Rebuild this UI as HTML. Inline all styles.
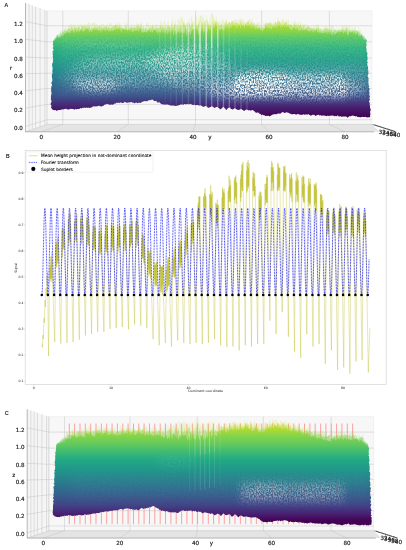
<!DOCTYPE html>
<html><head><meta charset="utf-8"><title>Figure</title>
<style>
html,body{margin:0;padding:0;background:#fff;}
body{width:406px;height:550px;overflow:hidden;}
svg text{font-family:"DejaVu Sans","Liberation Sans",sans-serif;fill:#222;}
.t{font-size:5.6px;stroke:#222;stroke-width:.18px;}
.l{font-size:4.33px;fill:#111;stroke:#111;stroke-width:.1px;}
.s{font-size:3.1px;fill:#222;}
.s2{font-size:3.3px;}
svg text.p{font-family:"Liberation Sans","DejaVu Sans",sans-serif;font-size:5.4px;fill:#111;stroke:#111;stroke-width:.15px;}
</style></head><body>
<svg width="406" height="550" viewBox="0 0 406 550" style="display:block">
<rect width="406" height="550" fill="#fff"/>
<defs><filter id="spk" filterUnits="userSpaceOnUse" x="0" y="0" width="406" height="550" color-interpolation-filters="sRGB">
<feGaussianBlur in="SourceGraphic" stdDeviation="3.5" result="d"/>
<feTurbulence type="fractalNoise" baseFrequency="0.79 0.53" numOctaves="2" seed="5" result="n"/>
<feColorMatrix in="n" type="matrix" values="0 0 0 0 1 0 0 0 0 1 0 0 0 0 1 3 0 0 0 -1" result="na"/>
<feComposite in="na" in2="d" operator="arithmetic" k1="1.7" k2="0" k3="0.15" k4="0" result="c"/>
<feComponentTransfer in="c"><feFuncR type="linear" slope="0"/><feFuncG type="linear" slope="0"/><feFuncB type="linear" slope="0"/><feFuncA type="linear" slope="1"/></feComponentTransfer>
</filter></defs>
<defs><linearGradient id="vgA" gradientUnits="userSpaceOnUse" x1="0" y1="118" x2="0" y2="22">
<stop offset="0.010" stop-color="#440154"/>
<stop offset="0.083" stop-color="#461668"/>
<stop offset="0.146" stop-color="#462e7a"/>
<stop offset="0.229" stop-color="#3b528a"/>
<stop offset="0.344" stop-color="#306c8e"/>
<stop offset="0.427" stop-color="#287d8e"/>
<stop offset="0.524" stop-color="#21918c"/>
<stop offset="0.625" stop-color="#22a186"/>
<stop offset="0.723" stop-color="#2caf7e"/>
<stop offset="0.823" stop-color="#4fc36a"/>
<stop offset="0.901" stop-color="#87d448"/>
<stop offset="0.969" stop-color="#b0dc2f"/>
<stop offset="1.000" stop-color="#bddf26"/>
</linearGradient>
<mask id="mkA" maskUnits="userSpaceOnUse" x="0" y="2" width="406" height="136"><rect x="0" y="2" width="406" height="136" fill="#fff"/>
<g filter="url(#spk)">
<rect x="72" y="64" width="160" height="24" fill="#fff" opacity=".1"/>
<rect x="232" y="66" width="136" height="32" fill="#fff" opacity=".1"/>
<rect x="60" y="36" width="306" height="58" fill="#fff" opacity=".06"/>
<ellipse cx="140" cy="58" rx="60" ry="2.5" fill="#fff" opacity="0.25"/>
<ellipse cx="195" cy="68" rx="35" ry="24" fill="#fff" opacity="0.12"/>
<ellipse cx="97" cy="86" rx="22" ry="6" fill="#fff" opacity="0.34"/>
<ellipse cx="120" cy="64" rx="45" ry="2.5" fill="#fff" opacity="0.3"/>
<ellipse cx="110" cy="45" rx="40" ry="1.5" fill="#fff" opacity="0.2"/>
<ellipse cx="175" cy="62" rx="30" ry="14" fill="#fff" opacity="0.2"/>
<rect x="234" y="74" width="112" height="24" fill="#fff" opacity=".4"/>
<ellipse cx="262" cy="83" rx="28" ry="12" fill="#fff" opacity="0.3"/>
<ellipse cx="225" cy="90" rx="18" ry="8" fill="#fff" opacity="0.3"/>
<ellipse cx="350" cy="88" rx="14" ry="7" fill="#fff" opacity="0.2"/>
<ellipse cx="120" cy="78" rx="60" ry="7" fill="#fff" opacity="0.1"/>
</g>
<path d="M159.5,23.9V52" stroke="#000" stroke-width="1.5" opacity="0.1"/>
<path d="M159.5,52V80" stroke="#000" stroke-width="1.4" opacity="0.05"/>
<path d="M165.2,24.2V52.2" stroke="#000" stroke-width="1.5" opacity="0.12"/>
<path d="M165.2,52.2V80.2" stroke="#000" stroke-width="1.4" opacity="0.08"/>
<path d="M165.2,80.2V106" stroke="#000" stroke-width="1.3" opacity="0.05"/>
<path d="M170.7,24.4V52.4" stroke="#000" stroke-width="1.5" opacity="0.18"/>
<path d="M170.7,52.4V80.4" stroke="#000" stroke-width="1.4" opacity="0.1"/>
<path d="M170.7,80.4V106.4" stroke="#000" stroke-width="1.3" opacity="0.06"/>
<path d="M176.4,24.5V52.5" stroke="#000" stroke-width="1.5" opacity="0.25"/>
<path d="M176.4,52.5V80.5" stroke="#000" stroke-width="1.4" opacity="0.2"/>
<path d="M176.4,80.5V106.4" stroke="#000" stroke-width="1.3" opacity="0.1"/>
<path d="M182.4,24.5V52.5" stroke="#000" stroke-width="1.5" opacity="0.35"/>
<path d="M182.4,52.5V80.5" stroke="#000" stroke-width="1.4" opacity="0.25"/>
<path d="M182.4,80.5V105.3" stroke="#000" stroke-width="1.3" opacity="0.12"/>
<path d="M188.4,24.5V52.5" stroke="#000" stroke-width="1.5" opacity="0.45"/>
<path d="M188.4,52.5V80.5" stroke="#000" stroke-width="1.4" opacity="0.3"/>
<path d="M188.4,80.5V104.7" stroke="#000" stroke-width="1.3" opacity="0.15"/>
<path d="M194.5,24.2V52.2" stroke="#000" stroke-width="1.5" opacity="0.7"/>
<path d="M194.5,52.2V80.2" stroke="#000" stroke-width="1.4" opacity="0.4"/>
<path d="M194.5,80.2V105.8" stroke="#000" stroke-width="1.3" opacity="0.2"/>
<path d="M200,23.2V51.2" stroke="#000" stroke-width="1.5" opacity="0.75"/>
<path d="M200,51.2V79.2" stroke="#000" stroke-width="1.4" opacity="0.45"/>
<path d="M200,79.2V106.7" stroke="#000" stroke-width="1.3" opacity="0.3"/>
<path d="M206.2,21.7V49.7" stroke="#000" stroke-width="1.5" opacity="0.75"/>
<path d="M206.2,49.7V77.7" stroke="#000" stroke-width="1.4" opacity="0.45"/>
<path d="M206.2,77.7V107.5" stroke="#000" stroke-width="1.3" opacity="0.35"/>
<path d="M211.7,19.8V47.8" stroke="#000" stroke-width="1.5" opacity="0.7"/>
<path d="M211.7,47.8V75.8" stroke="#000" stroke-width="1.4" opacity="0.4"/>
<path d="M211.7,75.8V108.2" stroke="#000" stroke-width="1.3" opacity="0.35"/>
<path d="M217.8,20.3V48.3" stroke="#000" stroke-width="1.5" opacity="0.55"/>
<path d="M217.8,48.3V76.3" stroke="#000" stroke-width="1.4" opacity="0.35"/>
<path d="M217.8,76.3V108.8" stroke="#000" stroke-width="1.3" opacity="0.35"/>
<path d="M223.5,21.2V49.2" stroke="#000" stroke-width="1.5" opacity="0.2"/>
<path d="M223.5,49.2V77.2" stroke="#000" stroke-width="1.4" opacity="0.25"/>
<path d="M223.5,77.2V109.1" stroke="#000" stroke-width="1.3" opacity="0.35"/>
<path d="M229.3,19.9V48" stroke="#000" stroke-width="1.5" opacity="0.1"/>
<path d="M229.3,48V76" stroke="#000" stroke-width="1.4" opacity="0.2"/>
<path d="M229.3,76V109.4" stroke="#000" stroke-width="1.3" opacity="0.3"/>
<path d="M235,19V47" stroke="#000" stroke-width="1.5" opacity="0.05"/>
<path d="M235,47V75" stroke="#000" stroke-width="1.4" opacity="0.15"/>
<path d="M235,75V109.8" stroke="#000" stroke-width="1.3" opacity="0.25"/>
<path d="M241,46.8V74.8" stroke="#000" stroke-width="1.4" opacity="0.1"/>
<path d="M241,74.8V110.5" stroke="#000" stroke-width="1.3" opacity="0.2"/>
<path d="M247,46.6V74.6" stroke="#000" stroke-width="1.4" opacity="0.05"/>
<path d="M247,74.6V111.2" stroke="#000" stroke-width="1.3" opacity="0.15"/>
</mask></defs>
<polygon points="25.5,3 46.9,10.8 46.9,124.4 25.5,131.8" fill="#f5f5f5"/>
<polygon points="46.9,10.8 372,10.8 372,124.4 46.9,124.4" fill="#f7f7f7" stroke="#e9e9e9" stroke-width=".5"/>
<polygon points="46.9,124.4 372,124.4 379.5,131.8 25.5,131.8" fill="#e4e4e4"/>
<path d="M25.5,126.5L46.9,119.7H372M25.5,108.1L46.9,104.4H372M25.5,90.9L46.9,88.5H372M25.5,73.7L46.9,73.2H372M25.5,57L46.9,58H372M25.5,39.3L46.9,41.8H372M25.5,21.6L46.9,25.8H372M29.1,4.3V130.5M32.3,5.5V129.4M35.6,6.7V128.3M40.1,8.3V126.8M44.8,10V125.1M62.8,10.8V124.4L41.4,131.8M128.3,10.8V124.4L117,131.8M195.5,10.8V124.4L193,131.8M261.6,10.8V124.4L269,131.8M329.4,10.8V124.4L345,131.8M46.9,10.8V124.4L25.5,131.8M46.9,124.4H372" fill="none" stroke="#c4c4c4" stroke-width=".5"/>
<path d="M25.5,3V131.8H374" fill="none" stroke="#999" stroke-width=".7"/>
<g mask="url(#mkA)">
<polygon points="53.5,39.5 54.3,39.3 54.8,37.4 55.6,37.5 56.4,35.8 56.7,34.6 57.6,34.9 58.4,34 58.7,34.1 59.9,32.4 60.5,30.6 61.4,33 61.7,30 62.5,32.1 63.4,28.9 63.8,28.9 64.8,28.6 65.3,25.4 65.9,25.8 66.6,29.5 67.2,28.8 68.1,25.9 68.6,24.6 69.7,26.5 70.5,23.9 70.7,22.6 71.3,24.1 72,24.3 73.3,26.8 73.4,25.8 74.5,24.7 75,22.3 75.6,25.9 76.3,25.7 77.3,28.3 77.6,24.1 78.8,26 79.3,24.2 79.8,26.8 80.5,24.2 81.5,23.7 82.2,25.1 82.7,26.3 83.4,25.4 84.2,23 85.1,26.2 85.6,26.3 86.5,23.9 87.1,25.5 87.7,22.4 88.4,22.8 89.2,22.3 89.8,23.3 90.6,24.3 91,27.3 91.8,22.8 92.8,23.3 93.2,22.8 94.2,22.9 95,21.6 95.4,25.5 95.9,23.1 97,24.4 97.6,25.4 98.1,26.2 99.1,27 99.6,24.9 100,25.8 100.7,26 101.5,23.5 102.5,24.4 103.3,24.4 103.6,22 104.2,26.6 105.3,24.6 105.8,26.7 106.6,25.6 107.5,22.6 108.3,27.5 109,23.3 109.6,22.8 109.8,24.4 110.6,22.2 111.6,24.6 112.5,25.2 112.6,24.4 113.6,26.3 114.2,26.3 114.9,25.5 115.6,21.3 116.3,24.8 116.9,25.3 117.6,21.2 118.5,26.6 119.2,21.6 120,22.8 120.7,24.6 121.6,25.4 121.9,26.7 122.9,27.5 123.3,27.4 124.2,25.6 125,25.6 125.4,22.8 126.2,24.6 127,22.4 127.4,23.6 128.3,27 128.8,24.5 129.5,26.9 130.5,27.1 131.4,22.4 132.1,25.4 132.4,26.1 133,27.2 133.9,24 134.6,25 135.2,28 136.2,23.3 136.8,25.7 137.4,22.2 138.2,23.6 138.8,24 139.6,24.8 140.5,23.4 141.2,21.5 141.9,23.3 142.5,27.4 142.8,25.1 143.7,26.9 144.6,27.9 145,27.3 145.9,27.2 146.2,22.3 147,23.6 147.8,23.2 148.3,23.7 149.3,26.4 149.8,25.4 150.9,25.1 151.3,25.9 152,25.5 153,22.5 153.5,28 153.9,26.8 154.7,25.6 155.7,23.9 156.1,24.8 156.8,23.7 157.8,28.1 158.4,27.1 159,25.6 159.8,25.2 160.6,21.9 160.9,20.3 161.8,22.6 162.5,28.4 163.5,26.4 163.7,21.7 164.6,20.3 165.2,23.2 166.2,25.7 167,25.5 167.2,22.9 168.4,20.5 169,25.3 169.4,26 170.5,27.8 170.9,26.5 171.9,19 172.1,21.8 173.1,17.6 173.8,28.1 174.7,24.8 175.4,19.8 175.9,21 176.3,28.6 177.3,23.7 177.9,20 179,18.5 179.5,21 180,23.7 180.7,13.7 181.7,20.5 182,17.1 183.1,19.7 183.7,25.7 184.3,23.9 185.1,25.8 185.6,24.2 186.2,24.3 187.1,21.6 187.5,23 188.3,22.9 189.2,16.7 190.1,27.4 190.4,26.2 191.3,15.3 192.3,19.3 192.9,21 193.6,24 194.2,19.5 194.9,24.4 195.5,14.8 196.3,14.6 196.9,21.5 197.5,26.2 198.1,14 198.7,22.6 199.6,18.2 200.6,15 201.1,15.7 201.6,15.3 202.7,19.7 202.9,14.8 204.2,20.2 204.7,22.5 205.3,19 205.9,21.1 206.9,15.9 207.1,15.3 207.8,23.6 208.8,23.4 209.4,20.8 210.1,19.9 210.9,14.4 211.3,13.9 212.6,13.3 213.1,15.6 213.5,15.4 214.5,19.1 215.1,19.1 215.9,23.5 216.6,15.7 217.5,21.7 217.7,24 218.9,21.6 219.3,22 219.8,18.9 220.6,25.7 221.3,24 222.3,18.7 222.8,18.9 223.2,21 224.3,21.1 224.9,23 225.8,17.9 226,18.8 227.2,20.2 227.9,23.2 228.1,23 229.1,21.7 229.6,21.7 230.5,24.1 231,21.1 232.1,20.3 232.4,21.2 233.4,20.4 234.1,20.8 234.6,20.6 235.2,19.1 236.3,20.5 236.5,22.9 237.4,18.5 238.1,20.4 239,21.3 239.5,19.3 240.1,19.1 241,18.4 241.8,18.9 242.5,19.7 243.1,19.8 243.7,23.2 244.2,20.1 245.2,22.3 246,22 246.6,22.8 247.6,20.6 247.8,22.8 248.9,19.3 249.5,19 250.3,18.9 251.1,22.9 251.3,19.9 252.5,19.1 252.8,24 253.7,23 254.6,23.4 255.1,23.1 255.7,25 256.1,23 257.2,24 257.6,22 258.4,22.7 259.1,22.4 260.2,25.9 260.7,24.2 261.4,24.6 261.8,25.7 262.6,28.5 263.6,21.8 263.9,23.3 265.1,24.5 265.5,22.7 266.1,21.7 266.9,22.3 267.6,23.4 268.3,23.5 269,23.3 269.8,20.6 270.3,22 270.9,24.7 271.8,22.3 272.3,23 273.2,24.4 273.9,19.1 274.8,23.3 275.1,21 275.9,21.9 276.9,23.9 277.3,18.1 278.3,17.2 278.9,22 279.2,20.9 280.1,20.9 281.1,22.3 281.6,20.1 282.4,19.2 283.3,19.7 283.8,19.7 284.4,24 285.3,22.1 285.8,20.5 286.2,19.1 287.1,21.7 288,21.4 288.9,19.2 289.4,24.8 289.9,23.9 291,24.1 291.3,19.9 291.9,24.9 292.8,25.4 293.4,22.7 294,20.6 295,24 295.7,19.8 296.6,23.7 296.8,21.5 297.9,25.3 298.6,20.8 299,25.5 299.8,22.5 300.6,21.7 301.1,25.1 301.7,26.5 302.8,23.6 303.1,24.4 304,24.5 304.7,23.3 305.6,25.6 306.1,25.1 306.8,24.9 307.8,24.9 308.1,25.5 309,27.1 309.4,26.4 310.5,27.4 311.2,27.7 311.9,24.2 312.4,27.9 312.9,28 313.9,25.4 314.7,26.9 315.1,27.5 315.6,26.4 316.4,25.1 317.6,24.5 317.7,23.2 318.4,24.2 319.2,27.5 320.3,27.9 320.7,28.4 321.6,29.5 322.3,25.2 322.9,30.5 323.7,29.3 324.3,26.2 325,26.6 325.6,28.1 326.1,24.4 327.2,27.8 327.7,26.9 328.4,30.2 329.4,25.5 329.8,29.9 330.4,27.7 331.4,25.3 332,24.6 332.4,25.4 333.3,25.6 334.2,29.8 334.7,30.7 335.8,28.3 336.4,30.7 336.9,25.4 337.8,30.8 338,28.8 338.8,29.7 339.9,30.3 340.4,27.6 340.9,29.9 341.8,24.8 342.6,26 343.3,27.6 343.6,24.8 344.3,24.9 345.2,28.1 345.7,24.8 346.5,24.7 347.5,26.7 348.1,28.9 348.6,25.5 349.7,25 350.1,28.8 351.1,30.3 351.7,26.1 352.4,26.8 353,29.8 353.8,28 354.2,29.7 355,25.4 356,29.5 356.3,30.4 357.1,31.1 358,29.8 358.5,26.2 359.2,30.9 360.2,30.4 360.5,29.1 361.2,33.9 362.3,33.8 362.7,33.3 363.4,36 364.4,35.7 364.8,37 365.9,38 365.6,45.8 53.4,47.8" fill="url(#vgA)" opacity=".22"/>
<polygon points="53.4,40.7 54.1,39.6 54.8,38.8 55.5,38.3 56.2,36.4 56.9,35.3 57.6,34.8 58.3,35 59,35.7 59.7,36.1 60.4,33.5 61.1,33 61.8,34.5 62.5,31.1 63.2,32.2 63.9,31.7 64.6,29.8 65.3,31.8 66,30 66.7,31 67.4,29.2 68.1,30.3 68.8,28.6 69.5,28 70.2,29.3 70.9,28.9 71.6,26.3 72.3,27.6 73,29.3 73.7,29.3 74.4,26 75.1,27 75.8,29 76.5,27.5 77.2,27.9 77.9,28.1 78.6,26.3 79.3,26.7 80,29.2 80.7,29 81.4,27.6 82.1,26 82.8,26.4 83.5,26.4 84.2,26.6 84.9,28 85.6,25.1 86.3,28.1 87,25.6 87.7,27.9 88.4,27.3 89.1,25.5 89.8,27.7 90.5,29.5 91.2,28.3 91.9,26.6 92.6,28.9 93.3,27.8 94,28.5 94.7,25.9 95.4,27.3 96.1,26.6 96.8,27.9 97.5,26.3 98.2,29 98.9,25.8 99.6,25.5 100.3,27.5 101,28.2 101.7,26.6 102.4,28.8 103.1,26.8 103.8,28.3 104.5,26.5 105.2,27.8 105.9,26.3 106.6,25.7 107.3,29.6 108,26.3 108.7,27.2 109.4,28 110.1,27.6 110.8,28.2 111.5,27.7 112.2,26.3 112.9,28.5 113.6,26.3 114.3,25.8 115,24.9 115.7,25.2 116.4,25.1 117.1,27.4 117.8,24.5 118.5,28.1 119.2,25.5 119.9,25.9 120.6,27.5 121.3,27.4 122,28.6 122.7,27.6 123.4,28.3 124.1,28.7 124.8,29 125.5,26.6 126.2,25.7 126.9,29.3 127.6,29.4 128.3,28.4 129,28.8 129.7,28.6 130.4,26.5 131.1,27.9 131.8,27.2 132.5,27.9 133.2,26.7 133.9,28.3 134.6,27.7 135.3,27.7 136,25.5 136.7,27.8 137.4,25.6 138.1,26.9 138.8,25.1 139.5,27.5 140.2,27 140.9,25.6 141.6,27 142.3,28.9 143,29.1 143.7,25.7 144.4,30 145.1,28.8 145.8,26.3 146.5,30 147.2,29.3 147.9,29.4 148.6,29.5 149.3,28 150,27 150.7,28.3 151.4,29 152.1,26.3 152.8,25.8 153.5,27.6 154.2,29.8 154.9,28.1 155.6,27.5 156.3,29.1 157,26.6 157.7,28.7 158.4,27.7 159.1,29.2 159.8,26.2 160.5,25.7 161.2,26.2 161.9,28.7 162.6,25 163.3,26.7 164,28.1 164.7,27.9 165.4,25.9 166.1,29.8 166.8,26.9 167.5,26.4 168.2,27.6 168.9,25.1 169.6,26.9 170.3,26.8 171,28.1 171.7,23.8 172.4,28.5 173.1,25.7 173.8,28.2 174.5,24.2 175.2,24.1 175.9,30.9 176.6,24 177.3,26.2 178,29.8 178.7,25.5 179.4,28.9 180.1,24.1 180.8,27.3 181.5,26.1 182.2,26.6 182.9,24.2 183.6,22.1 184.3,21.4 185,26.4 185.7,24.4 186.4,29.9 187.1,26.8 187.8,21.3 188.5,29.8 189.2,22.9 189.9,24.3 190.6,27.7 191.3,22.4 192,27.1 192.7,21.6 193.4,29.9 194.1,29.1 194.8,23.3 195.5,25.7 196.2,27.8 196.9,24.1 197.6,26.6 198.3,24.1 199,22.7 199.7,22.2 200.4,28.8 201.1,23.9 201.8,20.8 202.5,24.7 203.2,21.8 203.9,27.9 204.6,21 205.3,22.7 206,20.5 206.7,21.3 207.4,20.8 208.1,27.3 208.8,22.2 209.5,26.1 210.2,25.5 210.9,24.8 211.6,22.1 212.3,21.3 213,19 213.7,24.4 214.4,22.6 215.1,22.5 215.8,20.4 216.5,22.2 217.2,23.1 217.9,22.1 218.6,22.5 219.3,25.1 220,26.6 220.7,25 221.4,22.9 222.1,24.6 222.8,27.4 223.5,25.5 224.2,25.2 224.9,23.5 225.6,23.3 226.3,21.5 227,24 227.7,24.1 228.4,23.3 229.1,21.9 229.8,22.4 230.5,24 231.2,21.8 231.9,22.8 232.6,20.4 233.3,23.4 234,24.1 234.7,21 235.4,23.4 236.1,21.7 236.8,23.2 237.5,23 238.2,24.9 238.9,22.4 239.6,25 240.3,21.4 241,21.6 241.7,24.3 242.4,24.9 243.1,22.1 243.8,23.8 244.5,25.4 245.2,23.3 245.9,24.1 246.6,23.3 247.3,22 248,20.7 248.7,21.6 249.4,24.4 250.1,23.2 250.8,23.2 251.5,21.3 252.2,25.3 252.9,23.6 253.6,22 254.3,24.9 255,26.3 255.7,25.3 256.4,26.5 257.1,23.9 257.8,27.1 258.5,26.5 259.2,27.7 259.9,26 260.6,28.7 261.3,26.9 262,27.9 262.7,26.7 263.4,28 264.1,28.3 264.8,26.1 265.5,23 266.2,23.3 266.9,26.6 267.6,23.6 268.3,22.9 269,23.1 269.7,23.9 270.4,22.7 271.1,23.1 271.8,25.1 272.5,25.3 273.2,23 273.9,25.9 274.6,25 275.3,21.7 276,23.3 276.7,23.7 277.4,21.3 278.1,23.2 278.8,20.6 279.5,21.2 280.2,23.2 280.9,23.5 281.6,25.1 282.3,21.7 283,25 283.7,25.2 284.4,22 285.1,22.5 285.8,22.4 286.5,21.9 287.2,25.3 287.9,25.2 288.6,23.7 289.3,26.2 290,25 290.7,24.4 291.4,24.7 292.1,25.3 292.8,27 293.5,25.7 294.2,22.5 294.9,25.9 295.6,24.2 296.3,26.2 297,23.4 297.7,27 298.4,25.9 299.1,26 299.8,25.6 300.5,24.5 301.2,25.2 301.9,27.2 302.6,28.3 303.3,26.1 304,25 304.7,29.4 305.4,26.8 306.1,28.9 306.8,27.5 307.5,27.1 308.2,26.9 308.9,25.6 309.6,26.9 310.3,29 311,27.8 311.7,28.5 312.4,28.4 313.1,29.3 313.8,28.1 314.5,29.1 315.2,29.4 315.9,29.5 316.6,27.8 317.3,28.8 318,27.2 318.7,27.4 319.4,30.2 320.1,29.6 320.8,28.7 321.5,31 322.2,30.2 322.9,30.6 323.6,29.4 324.3,27.8 325,31.1 325.7,27.4 326.4,28.8 327.1,28.6 327.8,29.5 328.5,28.8 329.2,31 329.9,29.2 330.6,30.5 331.3,30.1 332,29 332.7,31.5 333.4,31.8 334.1,29.5 334.8,29.2 335.5,29.8 336.2,31.3 336.9,30 337.6,32 338.3,29.6 339,30.1 339.7,29.4 340.4,30.3 341.1,30.9 341.8,28.8 342.5,29.8 343.2,28.4 343.9,29.9 344.6,30.8 345.3,29.4 346,28.9 346.7,28.1 347.4,28.4 348.1,32.2 348.8,29.3 349.5,31.1 350.2,29.6 350.9,30.8 351.6,31.5 352.3,30.4 353,30.6 353.7,30.1 354.4,30.5 355.1,29.7 355.8,31.5 356.5,30.3 357.2,31.5 357.9,30.9 358.6,31.8 359.3,31.5 360,34.4 360.7,33.5 361.4,34.5 362.1,35.1 362.8,36.4 363.5,36.1 364.2,36.9 364.9,38.2 365.6,38.7 365.6,45.8 53.4,47.8" fill="url(#vgA)" opacity=".5"/>
<polygon points="53.4,40.9 54.1,40.6 54.8,40.6 55.5,39.1 56.2,37.3 56.9,38.6 57.6,36.4 58.3,38.1 59,38.1 59.7,36.9 60.4,37.7 61.1,35.1 61.8,35.9 62.5,36.8 63.2,35.2 63.9,34.3 64.6,33.6 65.3,33.6 66,33.2 66.7,32.6 67.4,31.9 68.1,32.6 68.8,32.3 69.5,32.4 70.2,33.7 70.9,30.5 71.6,30.9 72.3,30.3 73,31.1 73.7,32.4 74.4,32.6 75.1,29.9 75.8,29.4 76.5,32.2 77.2,31 77.9,31.7 78.6,29.5 79.3,33 80,30 80.7,30.7 81.4,29.1 82.1,30.1 82.8,31.3 83.5,31.8 84.2,29.9 84.9,31 85.6,29.3 86.3,28.8 87,29.7 87.7,28.6 88.4,29.6 89.1,31.4 89.8,32 90.5,29 91.2,32 91.9,31.6 92.6,30 93.3,28.2 94,30.4 94.7,28.2 95.4,30.5 96.1,29.3 96.8,30.7 97.5,29.1 98.2,30.7 98.9,30.6 99.6,30.9 100.3,29.4 101,33 101.7,30.3 102.4,30.3 103.1,30.1 103.8,28.8 104.5,30.2 105.2,31.3 105.9,30.7 106.6,29.3 107.3,29.5 108,29.9 108.7,31.5 109.4,30.6 110.1,31.8 110.8,30.2 111.5,30.3 112.2,31 112.9,31 113.6,29.5 114.3,29.7 115,29.7 115.7,29.8 116.4,28 117.1,29 117.8,30 118.5,28.5 119.2,28.6 119.9,29.2 120.6,30.3 121.3,32.4 122,28.6 122.7,29.5 123.4,29.3 124.1,30.2 124.8,28.7 125.5,30.8 126.2,29.1 126.9,30.1 127.6,31.7 128.3,29.3 129,30.9 129.7,30 130.4,29.6 131.1,32 131.8,28.7 132.5,31.6 133.2,32 133.9,31.2 134.6,28.6 135.3,31.3 136,30.7 136.7,31 137.4,28.4 138.1,31.1 138.8,31.5 139.5,28.6 140.2,29.4 140.9,28.4 141.6,32.2 142.3,32.2 143,32.9 143.7,31.5 144.4,31.9 145.1,32 145.8,31.8 146.5,33.1 147.2,31.6 147.9,30.7 148.6,31.1 149.3,29.1 150,31.8 150.7,31.7 151.4,30.3 152.1,32.7 152.8,31.8 153.5,30.6 154.2,29.7 154.9,30.1 155.6,30.2 156.3,31.4 157,31.8 157.7,34 158.4,30.4 159.1,33.1 159.8,31.4 160.5,32.9 161.2,30.9 161.9,28.6 162.6,33.4 163.3,30.7 164,29.8 164.7,33.5 165.4,33 166.1,30.5 166.8,30.8 167.5,35.1 168.2,30.8 168.9,33.6 169.6,29 170.3,33.6 171,28.9 171.7,31.9 172.4,28.9 173.1,32.7 173.8,35.4 174.5,29.7 175.2,31.2 175.9,34.8 176.6,34.3 177.3,31.2 178,33.1 178.7,30.9 179.4,34.1 180.1,28.7 180.8,32.8 181.5,32.2 182.2,33.2 182.9,30.2 183.6,33.3 184.3,33.5 185,30.2 185.7,27.1 186.4,36.1 187.1,34.1 187.8,29.4 188.5,35 189.2,30.9 189.9,32.1 190.6,35.8 191.3,31.1 192,29.7 192.7,30.1 193.4,28.4 194.1,29.3 194.8,30 195.5,28.6 196.2,26.8 196.9,30.4 197.6,28.5 198.3,33.2 199,35.2 199.7,29.6 200.4,31.8 201.1,31 201.8,27.5 202.5,27.2 203.2,33.4 203.9,30.1 204.6,32.6 205.3,25.6 206,30.2 206.7,32.2 207.4,32.2 208.1,25.4 208.8,29.5 209.5,28.1 210.2,30.9 210.9,25.6 211.6,26.1 212.3,29.5 213,26.7 213.7,25.7 214.4,28.5 215.1,25.2 215.8,24.1 216.5,26.4 217.2,25.5 217.9,25.6 218.6,28.1 219.3,30.8 220,28.8 220.7,29.8 221.4,28.2 222.1,29.6 222.8,30.3 223.5,29.6 224.2,30.1 224.9,28 225.6,26 226.3,27.8 227,26.9 227.7,25.6 228.4,28 229.1,28.8 229.8,25.1 230.5,27.5 231.2,27.7 231.9,25.7 232.6,24.9 233.3,25.2 234,26 234.7,26.6 235.4,26.1 236.1,24.8 236.8,28.3 237.5,28.1 238.2,24.7 238.9,25.8 239.6,25.1 240.3,28 241,28.1 241.7,24.7 242.4,25.8 243.1,25.6 243.8,26.7 244.5,28.8 245.2,24.7 245.9,24.9 246.6,26.1 247.3,25.8 248,26.5 248.7,25.7 249.4,24.7 250.1,25.6 250.8,28.3 251.5,27.4 252.2,25.2 252.9,28 253.6,26 254.3,28.8 255,26.5 255.7,30.1 256.4,27.5 257.1,28.5 257.8,29.2 258.5,28.5 259.2,27.8 259.9,28.5 260.6,30.2 261.3,29.8 262,31.5 262.7,30 263.4,29.9 264.1,28.8 264.8,29 265.5,27 266.2,25.6 266.9,27.3 267.6,28.5 268.3,26.7 269,27.7 269.7,28.9 270.4,26.9 271.1,29.1 271.8,29.3 272.5,26.1 273.2,28 273.9,26.6 274.6,26.2 275.3,26.6 276,27.1 276.7,28.6 277.4,24.7 278.1,26.3 278.8,25.6 279.5,24.5 280.2,27.6 280.9,26.7 281.6,25.2 282.3,28.1 283,25.3 283.7,24.7 284.4,26 285.1,27.8 285.8,24.4 286.5,27.6 287.2,27.1 287.9,25 288.6,27.1 289.3,27.4 290,28.4 290.7,29.4 291.4,29.1 292.1,30.8 292.8,26.9 293.5,29 294.2,26.8 294.9,28.6 295.6,29 296.3,29.5 297,27.4 297.7,28.6 298.4,30.5 299.1,31.1 299.8,29 300.5,31.1 301.2,28.9 301.9,29.1 302.6,30.7 303.3,29.9 304,29.8 304.7,30.1 305.4,30.7 306.1,29.2 306.8,28.6 307.5,31.3 308.2,30.8 308.9,31.3 309.6,32 310.3,30.5 311,30.7 311.7,30.6 312.4,30.4 313.1,32.9 313.8,30.6 314.5,30.6 315.2,32 315.9,29.9 316.6,29.1 317.3,31.9 318,32.7 318.7,31.1 319.4,33.2 320.1,31.3 320.8,33.1 321.5,33.8 322.2,32.5 322.9,32.9 323.6,33.6 324.3,33.1 325,31.3 325.7,33.2 326.4,30.9 327.1,34.8 327.8,31.9 328.5,32.4 329.2,32.2 329.9,35.1 330.6,31.8 331.3,33.6 332,34.8 332.7,35.2 333.4,31.3 334.1,33.9 334.8,33.9 335.5,34.4 336.2,33 336.9,33.1 337.6,31.4 338.3,31.5 339,33.7 339.7,31.3 340.4,32 341.1,32.3 341.8,31.1 342.5,30.8 343.2,34.2 343.9,32.2 344.6,31.1 345.3,33.5 346,30.6 346.7,31.9 347.4,34.9 348.1,35.2 348.8,34 349.5,31.6 350.2,32.8 350.9,31.6 351.6,32.8 352.3,31.5 353,32.3 353.7,34.5 354.4,32.5 355.1,32.1 355.8,35.8 356.5,33.5 357.2,33.3 357.9,32.8 358.6,35.9 359.3,35.5 360,35.7 360.7,36.6 361.4,34.5 362.1,35.9 362.8,37.7 363.5,39.6 364.2,39.7 364.9,39.6 365.6,39.5 366.4,39.5 366.7,40.7 366.6,41.9 366.1,43.1 366.6,44.3 366.6,45.5 366,46.7 366.2,47.9 366.6,49.1 366.4,50.3 366.6,51.5 367.2,52.7 367.6,53.9 367,55.1 367.3,56.3 367.5,57.5 367.5,58.7 367.6,59.9 366.8,61.1 367.9,62.3 367.2,63.5 367.3,64.7 367.7,65.9 367.9,67.1 368.2,68.3 367.7,69.5 368.5,70.7 368.2,71.9 368.5,73.1 368.2,74.3 367.7,75.5 367.7,76.7 368.6,77.9 368.4,79.1 368.5,80.3 368.4,81.5 368.3,82.7 368.7,83.9 368.5,85.1 369.3,86.3 368.5,87.5 369.6,88.7 369.5,89.9 369,91.1 369.5,92.3 369.4,93.5 369.3,94.7 369.8,95.9 369.9,97.1 369.2,98.3 370.1,99.5 369.1,100.7 369.2,101.9 369.8,103.1 369.6,104.3 369.9,105.5 370,106.7 370,107.9 370.6,109.1 370.7,110.3 370.1,111.5 370.1,112.7 370.6,113.9 370.1,115.1 370.2,116.8 369.5,117.5 368.8,116.9 368.1,117.4 367.4,117.3 366.7,117.5 366,116.9 365.3,116.8 364.6,116.9 363.9,117.1 363.2,116.9 362.5,116.8 361.8,116.9 361.1,117.1 360.4,117.4 359.7,117 359,117.3 358.3,117.1 357.6,117.1 356.9,116.6 356.2,116.1 355.5,116.6 354.8,116.1 354.1,116 353.4,115.8 352.7,115.6 352,115.8 351.3,115.9 350.6,116.3 349.9,116.3 349.2,116.2 348.5,116.9 347.8,117.4 347.1,117.5 346.4,116.6 345.7,116.4 345,116.4 344.3,116.6 343.6,116.5 342.9,116.6 342.2,116.7 341.5,116.8 340.8,116.3 340.1,116.3 339.4,116.5 338.7,116.4 338,115.4 337.3,115.5 336.6,116.2 335.9,116.2 335.2,115.8 334.5,116.3 333.8,115.9 333.1,115.4 332.4,115.5 331.7,115.5 331,115.7 330.3,115.7 329.6,115.8 328.9,115.8 328.2,116.1 327.5,115.5 326.8,116.3 326.1,116.1 325.4,115.8 324.7,115.7 324,115.3 323.3,115.8 322.6,115.4 321.9,115.5 321.2,115.8 320.5,115.1 319.8,115.5 319.1,115.2 318.4,114.6 317.7,115.1 317,115.1 316.3,115.6 315.6,115.9 314.9,115.6 314.2,114.7 313.5,114.8 312.8,114.8 312.1,115 311.4,115.6 310.7,115.7 310,114.9 309.3,115.1 308.6,114 307.9,114.6 307.2,114.6 306.5,114.5 305.8,114.5 305.1,114.6 304.4,114.7 303.7,114.2 303,114.6 302.3,114.8 301.6,115.1 300.9,114.6 300.2,115.1 299.5,114.6 298.8,113.9 298.1,114.5 297.4,113.8 296.7,114.6 296,114.7 295.3,114.3 294.6,114.1 293.9,113.9 293.2,114.3 292.5,114.2 291.8,114.3 291.1,113.9 290.4,113.8 289.7,113.4 289,112.9 288.3,112.7 287.6,112.7 286.9,112.1 286.2,112.4 285.5,112.7 284.8,112.8 284.1,112.9 283.4,112.3 282.7,112 282,112.3 281.3,112.9 280.6,113.4 279.9,113.8 279.2,113.4 278.5,113.4 277.8,113.5 277.1,113.9 276.4,114.2 275.7,114.2 275,114.2 274.3,114 273.6,114.5 272.9,114.4 272.2,114.7 271.5,115.2 270.8,115.7 270.1,116.1 269.4,116.6 268.7,115.8 268,115.7 267.3,115.9 266.6,115.8 265.9,116.3 265.2,115.7 264.5,115.3 263.8,115.2 263.1,115 262.4,114.6 261.7,115 261,114.7 260.3,113.7 259.6,113.8 258.9,113.3 258.2,112.5 257.5,112.6 256.8,112.4 256.1,113 255.4,112.2 254.7,111.4 254,111.1 253.3,110.6 252.6,110.1 251.9,110 251.2,110.6 250.5,110.7 249.8,110.1 249.1,110.5 248.4,110.2 247.7,110.1 247,109.6 246.3,109.8 245.6,109.8 244.9,110.4 244.2,110.9 243.5,110.5 242.8,109.9 242.1,109.8 241.4,109.1 240.7,108.8 240,109.9 239.3,109.5 238.6,109.9 237.9,110 237.2,109.5 236.5,109.2 235.8,108.9 235.1,108.2 234.4,108.3 233.7,108.9 233,109.2 232.3,109.4 231.6,109 230.9,109 230.2,107.5 229.5,107.7 228.8,107.8 228.1,108 227.4,108.8 226.7,109.8 226,110.1 225.3,108.5 224.6,108.2 223.9,107.2 223.2,106.9 222.5,107.5 221.8,108.3 221.1,108.9 220.4,109.2 219.7,108.9 219,107.9 218.3,107.9 217.6,107.1 216.9,106.9 216.2,106.9 215.5,107.6 214.8,107.7 214.1,107.9 213.4,106.9 212.7,106.4 212,106.6 211.3,106.4 210.6,106.9 209.9,107.2 209.2,107.5 208.5,107.8 207.8,107.8 207.1,106.5 206.4,106.4 205.7,106.1 205,106.2 204.3,106.6 203.6,106.8 202.9,107 202.2,106.1 201.5,106.1 200.8,105.1 200.1,105.7 199.4,105.4 198.7,105.4 198,105 197.3,104.9 196.6,104.9 195.9,105.2 195.2,105.2 194.5,104.5 193.8,104.9 193.1,105 192.4,104.8 191.7,104.5 191,103.9 190.3,103.7 189.6,104 188.9,104.6 188.2,104 187.5,104.1 186.8,104.2 186.1,104.1 185.4,104.4 184.7,103.9 184,103.9 183.3,104.9 182.6,104.4 181.9,104.6 181.2,104.4 180.5,104.3 179.8,105 179.1,104.9 178.4,105.4 177.7,105.4 177,105.8 176.3,106 175.6,106 174.9,105.7 174.2,105.7 173.5,105.4 172.8,105.7 172.1,105.3 171.4,105.8 170.7,105.5 170,105.2 169.3,105.3 168.6,104.8 167.9,104.5 167.2,104.5 166.5,104.5 165.8,104.6 165.1,104.8 164.4,104.6 163.7,104.4 163,104.3 162.3,104.4 161.6,104.1 160.9,103.7 160.2,103.1 159.5,102.3 158.8,102.2 158.1,102.7 157.4,102.4 156.7,101.3 156,101.3 155.3,101.1 154.6,100.9 153.9,101.1 153.2,99.9 152.5,99.4 151.8,99.8 151.1,99.7 150.4,100.3 149.7,100.3 149,100.1 148.3,100.6 147.6,101.2 146.9,101 146.2,101.3 145.5,101.3 144.8,101.1 144.1,101.3 143.4,101.4 142.7,101.4 142,102.3 141.3,102.3 140.6,102.9 139.9,102.8 139.2,102.8 138.5,102.7 137.8,103.2 137.1,102.9 136.4,102.6 135.7,102.8 135,102.9 134.3,103.5 133.6,102.6 132.9,102.9 132.2,102.3 131.5,102 130.8,102.3 130.1,102.2 129.4,102.5 128.7,102.2 128,102.4 127.3,102.7 126.6,102.7 125.9,102.5 125.2,102.1 124.5,101.7 123.8,102.9 123.1,102.8 122.4,102.9 121.7,103 121,102.2 120.3,102.4 119.6,103.2 118.9,102.3 118.2,102.9 117.5,103.1 116.8,102.6 116.1,103.2 115.4,103.4 114.7,103.6 114,104.1 113.3,104.5 112.6,104.7 111.9,104.4 111.2,104.5 110.5,104.8 109.8,104.6 109.1,104.9 108.4,104.1 107.7,104 107,104.2 106.3,103.8 105.6,104.5 104.9,104.8 104.2,104.8 103.5,105.7 102.8,105.9 102.1,105.9 101.4,106.8 100.7,106.3 100,106.3 99.3,105.7 98.6,105.8 97.9,106.3 97.2,106.3 96.5,106.3 95.8,106.7 95.1,106.1 94.4,106.5 93.7,106.5 93,106 92.3,107.3 91.6,107.5 90.9,107.3 90.2,107.9 89.5,108.1 88.8,107.8 88.1,107.6 87.4,107.9 86.7,107.6 86,107.7 85.3,108 84.6,107.6 83.9,107.8 83.2,107.9 82.5,107.8 81.8,108.3 81.1,108.4 80.4,108.1 79.7,108.8 79,109 78.3,109.1 77.6,108.9 76.9,108.9 76.2,109.5 75.5,108.7 74.8,109.7 74.1,109.3 73.4,109.2 72.7,109 72,108.7 71.3,109.1 70.6,108.7 69.9,109.3 69.2,109.2 68.5,109.6 67.8,109.5 67.1,109.3 66.4,109.1 65.7,108.4 65,109.2 64.3,109 63.6,109.6 62.9,109.3 62.2,109.2 61.5,109.8 60.8,109.7 60.1,110 59.4,109.9 58.7,110.2 58,110 57.3,110.5 56.6,111.1 55.9,110.2 55.2,110 54.5,110.2 53.8,110 53.1,110.1 52.4,109.6 51.7,108.6 51,107.7 51.3,106.8 51.4,105.6 50.7,104.4 50.7,103.2 51.4,102 51.5,100.8 50.9,99.6 50.9,98.4 51,97.2 50.9,96 51.3,94.8 51.4,93.6 51.6,92.4 51,91.2 51.2,90 51.1,88.8 51.3,87.6 51.3,86.4 52.2,85.2 51.6,84 51.3,82.8 52,81.6 52.4,80.4 52.3,79.2 52.1,78 51.8,76.8 51.9,75.6 51.8,74.4 52.5,73.2 52.5,72 52.2,70.8 52.7,69.6 52.5,68.4 52.6,67.2 52.1,66 52.1,64.8 52.1,63.6 53,62.4 52.9,61.2 53.1,60 53,58.8 53,57.6 52.6,56.4 53.1,55.2 52.4,54 53,52.8 52.3,51.6 53.5,50.4 53.4,49.2 52.6,48 53.4,46.8 53.5,45.6 52.6,44.4 53.2,43.2 53.1,42" fill="url(#vgA)"/>
</g>
<text x="22.9" y="129.6" text-anchor="end" class="t">0.0</text>
<text x="22.9" y="111.8" text-anchor="end" class="t">0.2</text>
<text x="22.9" y="94.6" text-anchor="end" class="t">0.4</text>
<text x="22.9" y="77.5" text-anchor="end" class="t">0.6</text>
<text x="22.9" y="60.5" text-anchor="end" class="t">0.8</text>
<text x="22.9" y="42.5" text-anchor="end" class="t">1.0</text>
<text x="22.9" y="25.9" text-anchor="end" class="t">1.2</text>
<text x="41.4" y="138.9" text-anchor="middle" class="t">0</text>
<text x="117" y="138.9" text-anchor="middle" class="t">20</text>
<text x="193" y="138.9" text-anchor="middle" class="t">40</text>
<text x="269" y="138.9" text-anchor="middle" class="t">60</text>
<text x="345" y="138.9" text-anchor="middle" class="t">80</text>
<text x="210" y="138.9" text-anchor="middle" class="t">y</text>
<text x="11" y="69.6" text-anchor="middle" class="t">r</text>
<path d="M372.3,124.4L396.3,132.0" stroke="#444" stroke-width=".6"/>
<path d="M378.3,126.3l-4,-1.6M382.5,127.6l-4,-1.6M386.7,129l-4,-1.6M390.9,130.3l-4,-1.6M395.1,131.6l-4,-1.6" stroke="#222" stroke-width=".6" fill="none"/>
<text x="382.3" y="133.7" text-anchor="middle" class="t">32</text>
<text x="385.9" y="134.6" text-anchor="middle" class="t">34</text>
<text x="389.5" y="135.5" text-anchor="middle" class="t">36</text>
<text x="393.1" y="136.4" text-anchor="middle" class="t">38</text>
<text x="396.7" y="137.3" text-anchor="middle" class="t">40</text>
<defs><linearGradient id="vgC" gradientUnits="userSpaceOnUse" x1="0" y1="524.4" x2="0" y2="424.4">
<stop offset="0.014" stop-color="#440154"/>
<stop offset="0.034" stop-color="#440154"/>
<stop offset="0.114" stop-color="#482475"/>
<stop offset="0.194" stop-color="#414487"/>
<stop offset="0.324" stop-color="#32668d"/>
<stop offset="0.444" stop-color="#27808d"/>
<stop offset="0.544" stop-color="#21968a"/>
<stop offset="0.644" stop-color="#22a884"/>
<stop offset="0.724" stop-color="#3dba74"/>
<stop offset="0.794" stop-color="#5fc860"/>
<stop offset="0.874" stop-color="#81d24d"/>
<stop offset="0.924" stop-color="#9bd83c"/>
<stop offset="0.974" stop-color="#bddf26"/>
<stop offset="1.000" stop-color="#cae126"/>
</linearGradient>
<mask id="mkC" maskUnits="userSpaceOnUse" x="0" y="404.4" width="406" height="140.0"><rect x="0" y="404.4" width="406" height="140.0" fill="#fff"/>
<g filter="url(#spk)">
<rect x="72" y="474" width="296" height="28" fill="#fff" opacity=".02"/>
<rect x="240" y="482" width="104" height="20" fill="#fff" opacity=".17"/>
<ellipse cx="265" cy="491" rx="22" ry="9" fill="#fff" opacity="0.1"/>
<ellipse cx="315" cy="493" rx="22" ry="8" fill="#fff" opacity="0.06"/>
<ellipse cx="175" cy="462" rx="20" ry="6" fill="#fff" opacity="0.05"/>
</g>
<path d="M189.5,429.8V455.8" stroke="#000" stroke-width="1.0" opacity="0.12"/>
<path d="M189.5,455.8V490.8" stroke="#000" stroke-width="0.9" opacity="0.06"/>
<path d="M195,429.6V455.6" stroke="#000" stroke-width="1.0" opacity="0.2"/>
<path d="M195,455.6V490.6" stroke="#000" stroke-width="0.9" opacity="0.1"/>
<path d="M200.3,429.2V455.2" stroke="#000" stroke-width="1.0" opacity="0.3"/>
<path d="M200.3,455.2V490.2" stroke="#000" stroke-width="0.9" opacity="0.15"/>
<path d="M204.8,428.3V454.3" stroke="#000" stroke-width="1.0" opacity="0.3"/>
<path d="M204.8,454.3V489.3" stroke="#000" stroke-width="0.9" opacity="0.15"/>
<path d="M209.5,427.4V453.4" stroke="#000" stroke-width="1.0" opacity="0.3"/>
<path d="M209.5,453.4V488.4" stroke="#000" stroke-width="0.9" opacity="0.15"/>
<path d="M214.5,426.2V452.2" stroke="#000" stroke-width="1.0" opacity="0.25"/>
<path d="M214.5,452.2V487.2" stroke="#000" stroke-width="0.9" opacity="0.125"/>
<path d="M220,425V451" stroke="#000" stroke-width="1.0" opacity="0.12"/>
<path d="M220,451V486" stroke="#000" stroke-width="0.9" opacity="0.06"/>
</mask></defs>
<polygon points="27.2,409.3 48.8,416.6 48.8,530.7 27.2,538.1" fill="#f5f5f5"/>
<polygon points="48.8,416.6 373.7,416.6 373.7,530.7 48.8,530.7" fill="#f7f7f7" stroke="#e9e9e9" stroke-width=".5"/>
<polygon points="48.8,530.7 373.7,530.7 381.2,538.1 27.2,538.1" fill="#e4e4e4"/>
<path d="M27.2,532.8L48.8,526H373.7M27.2,514.4L48.8,510.7H373.7M27.2,497.2L48.8,494.8H373.7M27.2,480L48.8,479.5H373.7M27.2,463.3L48.8,464.3H373.7M27.2,445.6L48.8,448.1H373.7M27.2,427.9L48.8,432.1H373.7M30.9,410.5V536.8M34.1,411.6V535.7M37.4,412.7V534.6M41.9,414.3V533.1M46.6,415.9V531.4M64.5,416.6V530.7L43.4,538.1M130,416.6V530.7L119.7,538.1M197.2,416.6V530.7L195.5,538.1M263.3,416.6V530.7L271.5,538.1M331.1,416.6V530.7L347,538.1M48.8,416.6V530.7L27.2,538.1M48.8,530.7H373.7" fill="none" stroke="#c4c4c4" stroke-width=".5"/>
<path d="M69.3,423.5V524.2M74.6,423.5V524.2M80,423.5V524.2M85.3,423.5V524.2M90.7,423.5V524.2M96,423.5V524.2M101.4,423.5V524.2M106.7,423.5V524.2M112.1,423.5V524.2M117.4,423.5V524.2M122.8,423.5V524.2M128.1,423.5V524.2M133.5,423.5V524.2M138.8,423.5V524.2M144.1,423.5V524.2M149.5,423.5V524.2M154.8,423.5V524.2M160.2,423.5V524.2M165.5,423.5V524.2M170.9,423.5V524.2M176.2,423.5V524.2M181.6,423.5V524.2M186.9,423.5V524.2M192.3,423.5V524.2M197.6,423.5V524.2M202.9,423.5V524.2M208.3,423.5V524.2M213.6,423.5V524.2M219,423.5V524.2M224.3,423.5V524.2M229.7,423.5V524.2M235,423.5V524.2M240.4,423.5V524.2M245.7,423.5V524.2M251.1,423.5V524.2M256.4,423.5V524.2M261.8,423.5V524.2M267.1,423.5V524.2M272.4,423.5V524.2M277.8,423.5V524.2M283.1,423.5V524.2M288.5,423.5V524.2M293.8,423.5V524.2M299.2,423.5V524.2M304.5,423.5V524.2M309.9,423.5V524.2M315.2,423.5V524.2M320.6,423.5V524.2M325.9,423.5V524.2M331.3,423.5V524.2M336.6,423.5V524.2M341.9,423.5V524.2M347.3,423.5V524.2M352.6,423.5V524.2" stroke="#ff8a8a" stroke-width=".8" fill="none"/>
<path d="M27.2,409.3V538.1H375.7" fill="none" stroke="#999" stroke-width=".7"/>
<g mask="url(#mkC)">
<polygon points="56.3,443.9 56.6,443 57.2,442.7 58.2,442.5 59,442.4 59.3,442.1 60.4,440.4 61,439.5 61.8,439.3 62.6,439.4 63,438.1 64,437 64.2,438.1 65.1,436.9 65.8,435 66.3,432 67.2,431.5 68.1,433.4 68.4,435.2 69.3,433.8 70,431.2 70.5,432.3 71.5,431.3 72,429.4 72.8,429.6 73.5,428.7 74.3,433.3 75.2,431.6 75.9,433.3 76.3,429.9 76.9,429.4 77.5,431.2 78.6,432.8 79.3,430.2 80,432.4 80.7,432 81.2,430.8 82.1,427.3 82.7,431.3 83.4,429 84.2,430.8 84.8,430.7 85.6,431.7 86.4,431.1 86.7,427.8 87.7,429.3 88.1,429.9 88.9,425.8 89.8,426.2 90.6,429.5 91.3,429 91.9,428.8 92.6,431.6 93.3,430 93.9,431.1 94.3,427.9 94.9,431.5 96.1,425.7 96.8,429.9 97.4,429.3 98,430.1 98.8,425.7 99.5,425.9 100.1,430.8 100.9,428 101.3,429.4 102.2,428.2 103,429.9 103.6,426.2 104.2,430.2 104.8,425.9 105.8,429.1 106.2,427.2 107.3,428.6 107.6,428.3 108.7,428.8 109.1,428.2 110.1,431.2 110.4,430.9 111.1,425.7 112.1,429.8 112.9,429.3 113.3,430.3 114.1,428.2 114.9,426.2 115.4,430.2 116.1,430.7 116.9,430.3 117.5,431.9 118.1,431.4 119.2,431.7 119.5,429.7 120.7,425.3 121.3,430.1 121.8,427.4 122.7,429.3 122.9,430.5 123.9,426 124.5,430.7 125.2,430.7 126.2,426 126.4,428.7 127.6,429.1 127.8,424.6 128.9,429.4 129.4,425.6 130.2,429.5 131.2,427.7 131.8,429.3 132.1,429 132.9,425.4 133.7,425.6 134.5,430.6 134.8,427.7 136,430.6 136.7,430.1 137.5,431.3 137.7,427.7 138.4,426.6 139.5,426.6 140,426.6 140.5,428.6 141.1,429.3 141.9,430.3 142.9,428 143.6,424.7 144.1,428.2 145.2,427.8 145.6,425.9 146.3,426.5 146.9,427.5 147.6,428.7 148.3,431 149.3,427.9 149.8,429.5 150.3,427.7 151.2,430.5 152.2,425.5 152.7,431.1 153.1,427.2 154,426.4 154.7,431.8 155.1,426.8 156.4,428.4 157,428.5 157.3,430.7 158.2,430.5 158.8,431.5 159.4,429.9 160.2,428.1 160.7,427.2 161.8,427.3 162.3,430.3 163.2,429.9 164,426.6 164.5,424.6 165.1,430.7 165.7,428.8 166.7,430 167.4,423.6 168.2,433.4 168.5,424.6 169.1,425.7 170.3,429.9 170.9,425.7 171.3,428.4 172.3,425.7 172.6,428.1 173.7,422.9 174.3,427.8 175.1,423.3 175.5,426.4 176.6,428.4 177.4,421 178.1,430.5 178.7,422.3 179.1,420.8 180.2,422.3 180.7,424.9 181.4,425 182.1,420.3 182.5,426.4 183.6,421.1 184.2,422.2 184.6,420.5 185.4,426.3 186,423.3 186.9,431.1 187.9,431.3 188.2,430.7 188.9,421.9 189.9,427.7 190.1,419.3 190.9,430.9 191.9,429.7 192.3,419.8 193.3,426.2 194.1,429 194.6,420.8 195,428.9 195.8,418.6 196.7,427.6 197.7,420.1 198.2,425.4 198.9,419 199.6,428.3 200.1,420.6 201,429 201.3,427.2 202.2,425 203.2,425.9 203.5,423.8 204.5,423.5 205.2,428.6 205.6,431.7 206.7,422.4 207,423.9 208.2,423.6 208.5,425.2 209.4,419.8 210.3,427.5 210.9,420.6 211.4,428.9 211.9,422.6 212.9,420.8 213.6,428.2 213.9,422.5 214.8,427.4 215.9,430 216.3,426.2 216.8,423.7 217.8,427.2 218.4,421.1 219.3,429 219.8,426 220.2,425.7 221,425.5 221.7,426.2 222.9,428 223.2,427.3 223.9,426.3 225,422.9 225.2,424.9 226.2,422.6 227.1,424.1 227.7,425.1 228,426.3 228.9,425.9 229.5,421.3 230.4,424.3 230.8,424.9 231.5,425.6 232.3,421 232.9,422.1 233.9,421.9 234.4,421.1 235.1,424.7 235.8,421.4 236.5,425.7 237.2,422 237.9,424.2 238.8,422 239.2,425.2 240.2,423.7 240.7,422.1 241.3,420.8 242,424.2 243.1,424.6 243.3,425.3 244.2,421.4 245.2,419.3 245.4,424.4 246.2,422.7 247,423.8 248,419.4 248.3,424.8 249.5,425.6 249.7,421.9 250.6,420.3 251.5,421.9 252,426.1 252.7,424.7 253.4,423.9 254,421.3 255.1,421.7 255.4,425.5 256.3,423.5 256.9,422.4 257.9,424.7 258.1,424.4 258.8,423.2 259.9,423.2 260.4,424.1 261.2,425.8 261.9,427.9 262.7,428.9 263.4,428.5 264,424.6 264.3,423.2 265.5,422.2 265.7,421.1 266.9,424.4 267.1,424.2 268.3,425.2 268.9,423 269.2,420.1 270.4,421.1 270.9,423.1 271.4,424.5 272.5,420 273.1,419.3 273.7,419.5 274.7,422.4 274.9,421.6 275.6,420.9 276.7,419.1 277,423.6 278.1,421.9 278.4,424.1 279.5,424.5 279.9,423.5 280.8,420 281.5,421 282,422 282.8,422.7 283.6,423.5 284,420.3 285.1,422 285.8,425.2 286.1,421.9 286.8,420 287.6,425.8 288.6,421 289.1,426.8 289.7,425.5 290.7,421.9 291,422.6 292,427.7 292.8,424.3 293.1,424.8 294,426.2 294.8,424.1 295.7,425.4 296,427.8 296.8,426.4 297.8,425.2 298,426 299.1,425.9 299.5,425.4 300.2,429.4 301.3,430.5 301.6,430.4 302.2,427.1 302.9,428.6 303.9,426.4 304.6,425.3 305,430.5 305.9,429.4 306.5,428.8 307.5,428.2 307.9,426.4 308.8,428.6 309.6,430.8 309.9,429.6 311.1,432 311.5,430.4 312.3,433.9 312.8,430.9 313.7,431.1 314.4,430.3 315.1,431.5 315.9,431.1 316.4,430.5 316.8,434.5 318,430.9 318.5,431.5 319.3,431.3 320,433.2 320.3,434.9 321.2,430.2 321.8,431.1 322.8,430.4 323.6,433.9 324.2,432 325,432.2 325.4,434.2 325.9,432.6 326.8,432.6 327.4,436.8 328.2,436.4 328.8,434.8 329.5,433.9 330.5,433.7 331.2,434.3 332,432.8 332.8,433 333,436.9 334.2,435.5 334.8,431.4 335.3,431.9 336.3,437.1 336.7,433.1 337.1,435.5 337.9,433.4 338.7,430.3 339.6,435.2 340.2,430.8 341,433.5 341.3,430.7 342.1,431.6 343,436.2 343.8,432.3 344.4,431.1 344.9,434.5 345.7,432.3 346.7,435.3 347.3,436.2 347.7,435.2 348.9,435.3 349,430.6 349.8,435.2 350.7,433.6 351.6,433 352.1,432 352.9,430.6 353.8,432.9 354.1,431.7 354.7,436.2 355.5,433.4 356.3,436.8 356.8,432.4 357.4,434.7 358.5,437.7 359.4,433.9 360.1,435.6 360.4,436.1 361.2,438 362.1,433.8 362.9,436.3 363.2,436.1 364.3,441 364.8,439.7 365.2,441.3 366.1,441.8 366.5,442.5 367.4,443.3 368.2,443.8 368.2,452.3 56,451.7" fill="url(#vgC)" opacity=".22"/>
<polygon points="56,444.6 56.7,444.3 57.4,443.5 58.1,443.2 58.8,442.5 59.5,442.4 60.2,440.5 60.9,440.9 61.6,440 62.3,439.3 63,437.8 63.7,439.8 64.4,438.7 65.1,437.7 65.8,436.8 66.5,438 67.2,436.1 67.9,434.5 68.6,434.5 69.3,436 70,435 70.7,435.1 71.4,434.7 72.1,433.9 72.8,431.3 73.5,435.3 74.2,431.5 74.9,434.7 75.6,434.7 76.3,433.8 77,433.4 77.7,430.8 78.4,431.3 79.1,430.8 79.8,433.3 80.5,434.6 81.2,432.1 81.9,430.9 82.6,434.5 83.3,431.4 84,434.5 84.7,431.7 85.4,432 86.1,430.1 86.8,430.4 87.5,433.2 88.2,431.1 88.9,432.2 89.6,431.3 90.3,432.3 91,431.7 91.7,432.1 92.4,434.1 93.1,432.2 93.8,430.8 94.5,434 95.2,429.8 95.9,431.2 96.6,431.9 97.3,428.9 98,430.2 98.7,430.9 99.4,430.9 100.1,429.2 100.8,432.1 101.5,432.4 102.2,432.2 102.9,433.2 103.6,430.1 104.3,431.1 105,429.9 105.7,428.6 106.4,430.6 107.1,431.5 107.8,430.8 108.5,431.4 109.2,432.2 109.9,432.2 110.6,431.3 111.3,430.1 112,432.2 112.7,429 113.4,432.3 114.1,432.5 114.8,433.1 115.5,432.5 116.2,432.7 116.9,431.2 117.6,430 118.3,432.5 119,430.2 119.7,431.9 120.4,431.1 121.1,431.9 121.8,428.6 122.5,430.5 123.2,429.4 123.9,432.4 124.6,430.2 125.3,432.1 126,430.6 126.7,428.9 127.4,431.1 128.1,429.6 128.8,428.7 129.5,431.5 130.2,431 130.9,431.9 131.6,432.1 132.3,430.6 133,430.7 133.7,430 134.4,429.7 135.1,430.7 135.8,431.6 136.5,431.4 137.2,430.5 137.9,429.8 138.6,429.8 139.3,430.6 140,432.3 140.7,429 141.4,430.7 142.1,430.1 142.8,428.6 143.5,431.3 144.2,428.8 144.9,432.3 145.6,432.9 146.3,431.3 147,430.5 147.7,432.3 148.4,430.4 149.1,432.7 149.8,430.3 150.5,433.5 151.2,432.4 151.9,432.9 152.6,430.5 153.3,432.2 154,431.2 154.7,433.4 155.4,431.1 156.1,430 156.8,434.3 157.5,432.8 158.2,430.3 158.9,430.7 159.6,430.6 160.3,433.8 161,431.8 161.7,434.4 162.4,432.6 163.1,431.4 163.8,433.6 164.5,432.7 165.2,432.5 165.9,434 166.6,434.2 167.3,429.9 168,435.6 168.7,429 169.4,429.5 170.1,428.8 170.8,429.6 171.5,434.5 172.2,434 172.9,432.7 173.6,434.1 174.3,434.9 175,428.1 175.7,428.5 176.4,429.2 177.1,433.1 177.8,428.5 178.5,429.3 179.2,433 179.9,434.7 180.6,434.3 181.3,432.3 182,428 182.7,434.3 183.4,431.1 184.1,432.3 184.8,426.9 185.5,433.8 186.2,429.1 186.9,432.2 187.6,429.1 188.3,427.3 189,427.4 189.7,427.6 190.4,432.4 191.1,432.3 191.8,433.9 192.5,432.3 193.2,433.9 193.9,427.5 194.6,434.4 195.3,433.3 196,427.8 196.7,427.1 197.4,425.9 198.1,431.4 198.8,434.3 199.5,427.7 200.2,433.3 200.9,428.9 201.6,435.7 202.3,435.7 203,430.6 203.7,429.2 204.4,430.2 205.1,430.1 205.8,429.4 206.5,432.6 207.2,433.1 207.9,430 208.6,429.1 209.3,430.9 210,431.9 210.7,429.7 211.4,430.1 212.1,430.3 212.8,426.4 213.5,425.5 214.2,432.1 214.9,429.1 215.6,431.2 216.3,430.2 217,432.1 217.7,431.4 218.4,431.4 219.1,430.3 219.8,426.5 220.5,430.1 221.2,425.6 221.9,426.1 222.6,428.6 223.3,427.1 224,425.2 224.7,429.2 225.4,426.7 226.1,427.4 226.8,427.6 227.5,427.9 228.2,428.7 228.9,426.1 229.6,428.4 230.3,427.1 231,424.5 231.7,427.1 232.4,427.2 233.1,424.2 233.8,425.5 234.5,425.5 235.2,426.9 235.9,424.9 236.6,426.1 237.3,425.5 238,426.1 238.7,427.4 239.4,424.5 240.1,424.6 240.8,423.8 241.5,426.9 242.2,426.7 242.9,426.6 243.6,426.3 244.3,425.7 245,425.5 245.7,425 246.4,425.1 247.1,422.9 247.8,424.9 248.5,423.8 249.2,427.4 249.9,427.3 250.6,424.1 251.3,427.9 252,428 252.7,426.6 253.4,427.4 254.1,427.4 254.8,425.3 255.5,424.9 256.2,427 256.9,426.4 257.6,427.7 258.3,426.6 259,430.2 259.7,429.7 260.4,428.4 261.1,430.6 261.8,427.9 262.5,427.5 263.2,429.6 263.9,426.9 264.6,428.4 265.3,425.1 266,427.2 266.7,427.6 267.4,427.4 268.1,426.1 268.8,427.6 269.5,423.3 270.2,424.6 270.9,425 271.6,424.5 272.3,424.9 273,422.6 273.7,422.8 274.4,424 275.1,424.4 275.8,425.3 276.5,424.8 277.2,425.2 277.9,425.6 278.6,422.2 279.3,425 280,424.3 280.7,426.1 281.4,424.4 282.1,423.8 282.8,426.3 283.5,422.7 284.2,425.7 284.9,425.3 285.6,424.1 286.3,425.9 287,424 287.7,426.8 288.4,427.2 289.1,426.1 289.8,425.4 290.5,425.7 291.2,428.8 291.9,428.1 292.6,428.4 293.3,427.2 294,429.2 294.7,426.9 295.4,427.9 296.1,429.9 296.8,429.6 297.5,429.7 298.2,427.5 298.9,428.9 299.6,428.9 300.3,428 301,430.7 301.7,428.3 302.4,431.1 303.1,432.6 303.8,432.5 304.5,429.9 305.2,431.2 305.9,429.8 306.6,430.7 307.3,430.3 308,431.9 308.7,431.3 309.4,431.4 310.1,433.5 310.8,433.6 311.5,431.9 312.2,432.3 312.9,434.4 313.6,435.2 314.3,432.3 315,434.6 315.7,432.1 316.4,433.3 317.1,435.3 317.8,433.5 318.5,434.6 319.2,434.1 319.9,433.5 320.6,434.6 321.3,433.4 322,436 322.7,436.2 323.4,435.6 324.1,437.1 324.8,436.1 325.5,436.8 326.2,436.6 326.9,435.7 327.6,436.7 328.3,435.1 329,435.6 329.7,435.2 330.4,439 331.1,439.1 331.8,437 332.5,438 333.2,435.5 333.9,437.5 334.6,435.3 335.3,436.9 336,436.1 336.7,434.8 337.4,434.4 338.1,436.5 338.8,435.8 339.5,435 340.2,435.9 340.9,435.9 341.6,434.2 342.3,434.7 343,436.8 343.7,435 344.4,434 345.1,436.2 345.8,434.7 346.5,435.2 347.2,435.4 347.9,438.4 348.6,434.9 349.3,434 350,437.1 350.7,435.2 351.4,437.1 352.1,435.2 352.8,435.1 353.5,435.1 354.2,434.9 354.9,437.3 355.6,438.4 356.3,436.1 357,439 357.7,438.9 358.4,439.1 359.1,437.4 359.8,438.5 360.5,437.2 361.2,437.3 361.9,437.3 362.6,437.6 363.3,438.8 364,441.8 364.7,442.3 365.4,442.1 366.1,443 366.8,443.3 367.5,444.2 368.2,445.1 368.2,452.3 56,451.7" fill="url(#vgC)" opacity=".5"/>
<polygon points="56,444.4 56.7,445.8 57.4,444.3 58.1,444.1 58.8,442.7 59.5,442.6 60.2,444.2 60.9,442.5 61.6,441.6 62.3,442.7 63,442.6 63.7,439.5 64.4,442.9 65.1,438.6 65.8,440.6 66.5,438.7 67.2,438.4 67.9,438.4 68.6,439 69.3,437.8 70,438.7 70.7,439.2 71.4,436 72.1,435.4 72.8,436.6 73.5,436.1 74.2,435.6 74.9,436 75.6,436.9 76.3,437.3 77,437.4 77.7,436.6 78.4,435.1 79.1,437.1 79.8,436.8 80.5,434.5 81.2,437.5 81.9,434.6 82.6,436.8 83.3,436.6 84,437.3 84.7,436.4 85.4,437 86.1,433.1 86.8,433.1 87.5,433.3 88.2,434.5 88.9,434 89.6,432.4 90.3,432.4 91,434.6 91.7,434.4 92.4,436.3 93.1,435 93.8,437 94.5,436.4 95.2,434.6 95.9,433.7 96.6,432.7 97.3,433 98,432.6 98.7,433.2 99.4,432.2 100.1,433.7 100.8,432.2 101.5,435.8 102.2,434.6 102.9,432.9 103.6,433.9 104.3,433.1 105,432 105.7,433.2 106.4,432.4 107.1,432.3 107.8,434.8 108.5,434.2 109.2,435.2 109.9,434.1 110.6,433.9 111.3,433.4 112,433.6 112.7,434 113.4,433.7 114.1,436 114.8,433.6 115.5,434.1 116.2,434.7 116.9,436.2 117.6,436 118.3,434.8 119,434 119.7,434.8 120.4,435.1 121.1,432.5 121.8,433.9 122.5,434 123.2,432.9 123.9,432.2 124.6,434.5 125.3,432.9 126,433 126.7,432.9 127.4,434.7 128.1,431.4 128.8,431.4 129.5,433.4 130.2,435.8 130.9,431.9 131.6,434.4 132.3,431.7 133,433.8 133.7,432.2 134.4,434.9 135.1,434.1 135.8,434.7 136.5,433.5 137.2,432.6 137.9,433 138.6,432.7 139.3,432.4 140,432.8 140.7,433.9 141.4,432.7 142.1,434.3 142.8,433.4 143.5,433.4 144.2,434.6 144.9,435.9 145.6,434.7 146.3,432.7 147,434.8 147.7,433.2 148.4,435.7 149.1,433.7 149.8,435.2 150.5,433.6 151.2,436.4 151.9,432.8 152.6,435.8 153.3,436.5 154,434.4 154.7,436.2 155.4,435 156.1,434.8 156.8,434.7 157.5,433.2 158.2,436.8 158.9,434.1 159.6,434.8 160.3,434.1 161,437.8 161.7,436.3 162.4,436.1 163.1,436.4 163.8,438.2 164.5,437.2 165.2,436.1 165.9,434.7 166.6,436.1 167.3,439.3 168,437.5 168.7,436.7 169.4,439.5 170.1,433.9 170.8,433.4 171.5,438 172.2,439.5 172.9,433.3 173.6,433.4 174.3,433.2 175,437.2 175.7,434.3 176.4,437.3 177.1,438 177.8,433.1 178.5,440.8 179.2,435.3 179.9,437.9 180.6,435.9 181.3,436.2 182,436.2 182.7,432.3 183.4,436.1 184.1,435.1 184.8,435.5 185.5,433.8 186.2,435.4 186.9,438.9 187.6,441.6 188.3,434 189,440.6 189.7,438.6 190.4,433.2 191.1,432.1 191.8,440.5 192.5,434 193.2,433.1 193.9,438.3 194.6,438.6 195.3,440.7 196,437.1 196.7,434.4 197.4,435.1 198.1,433.9 198.8,437.7 199.5,440.9 200.2,433.9 200.9,436.5 201.6,436.2 202.3,434 203,438.3 203.7,440.8 204.4,434.7 205.1,438.1 205.8,439.3 206.5,433.4 207.2,438.5 207.9,436.3 208.6,436 209.3,432 210,433.1 210.7,431.6 211.4,437.4 212.1,435.9 212.8,431.4 213.5,433.6 214.2,431.9 214.9,435.4 215.6,434.6 216.3,436.6 217,435.1 217.7,430.8 218.4,432.2 219.1,432.8 219.8,434 220.5,431.1 221.2,430.1 221.9,430.6 222.6,430 223.3,430.2 224,430.6 224.7,429.8 225.4,430.8 226.1,432.9 226.8,432.6 227.5,428.8 228.2,430.7 228.9,431.2 229.6,428.9 230.3,430.4 231,428.5 231.7,429.3 232.4,429 233.1,430.9 233.8,428.1 234.5,429.3 235.2,429.3 235.9,428.1 236.6,430.7 237.3,428.3 238,428.2 238.7,429.7 239.4,429.2 240.1,429.6 240.8,427.5 241.5,427.8 242.2,430 242.9,427.9 243.6,430.2 244.3,427.1 245,426.4 245.7,428.6 246.4,426.9 247.1,425.9 247.8,426.7 248.5,429.3 249.2,427.7 249.9,429.3 250.6,430.4 251.3,429.6 252,430.4 252.7,431.7 253.4,428.9 254.1,430.8 254.8,429 255.5,427.2 256.2,427.4 256.9,429 257.6,429.2 258.3,432.1 259,431.9 259.7,429.9 260.4,433.2 261.1,432.3 261.8,432.1 262.5,431 263.2,431.9 263.9,432.7 264.6,430.8 265.3,429.8 266,429.6 266.7,428.9 267.4,429.3 268.1,427.8 268.8,427.4 269.5,426.4 270.2,429.6 270.9,426.4 271.6,427.1 272.3,428 273,427.3 273.7,428.4 274.4,425.6 275.1,425 275.8,425.7 276.5,427.2 277.2,426.8 277.9,426.9 278.6,427.8 279.3,426.4 280,428.2 280.7,425.5 281.4,427.9 282.1,429.1 282.8,429.5 283.5,428 284.2,429.4 284.9,426.4 285.6,427.4 286.3,428.1 287,428.6 287.7,430.2 288.4,429.4 289.1,428.2 289.8,430.8 290.5,429.3 291.2,432.6 291.9,430.2 292.6,430.4 293.3,429.6 294,430.4 294.7,431.8 295.4,430.9 296.1,429.9 296.8,432.3 297.5,433 298.2,430.8 298.9,431.5 299.6,430.7 300.3,430.9 301,432.8 301.7,432.3 302.4,434.9 303.1,431.8 303.8,434.6 304.5,434.7 305.2,433.5 305.9,434.3 306.6,432.9 307.3,433.1 308,432.6 308.7,436.4 309.4,433.4 310.1,434.7 310.8,437.5 311.5,436.2 312.2,437.1 312.9,436.1 313.6,435.2 314.3,437.9 315,435.9 315.7,436.3 316.4,438.5 317.1,437.1 317.8,439.8 318.5,436.5 319.2,438.2 319.9,438.3 320.6,438 321.3,439.4 322,436.8 322.7,439 323.4,440.4 324.1,438.1 324.8,440.2 325.5,439.8 326.2,440.2 326.9,440.2 327.6,440.5 328.3,440.6 329,441.4 329.7,440.3 330.4,442.2 331.1,441 331.8,439.8 332.5,439 333.2,438.4 333.9,439.2 334.6,437.8 335.3,439.8 336,440.5 336.7,440 337.4,438.4 338.1,438.9 338.8,437.9 339.5,439.9 340.2,436.4 340.9,438.2 341.6,439.4 342.3,438 343,440.6 343.7,438.7 344.4,438.3 345.1,437 345.8,438.3 346.5,439.8 347.2,439.1 347.9,438 348.6,440 349.3,438.2 350,440.5 350.7,439.6 351.4,439.4 352.1,440.3 352.8,440.3 353.5,438.5 354.2,439.7 354.9,438.7 355.6,438.8 356.3,439.3 357,438.6 357.7,439.9 358.4,440 359.1,442.3 359.8,440.3 360.5,439.8 361.2,440.8 361.9,440.6 362.6,442.4 363.3,441.6 364,443.7 364.7,442.7 365.4,444 366.1,446 366.8,444 367.5,445.5 368.2,445.7 368.3,447 369.3,448.2 368.8,449.4 368.9,450.6 368.6,451.8 368.8,453 369,454.2 368.4,455.4 369.3,456.6 368.9,457.8 369.4,459 369.4,460.2 369.4,461.4 368.7,462.6 369.4,463.8 369.2,465 369.7,466.2 369.7,467.4 369.5,468.6 369.8,469.8 369.1,471 370,472.2 370.2,473.4 370.2,474.6 370.1,475.8 369.7,477 370.4,478.2 370,479.4 369.6,480.6 370,481.8 370.4,483 370.3,484.2 370.5,485.4 369.6,486.6 370.8,487.8 370.8,489 370.3,490.2 370.8,491.4 370,492.6 370.3,493.8 370.1,495 370.7,496.2 371.1,497.4 371.1,498.6 370.1,499.8 371,501 370.8,502.2 370.4,503.4 371.3,504.6 370.9,505.8 370.4,507 370.8,508.2 371.2,509.4 371.5,510.6 370.7,511.8 371.3,513 370.7,514.2 371.7,515.4 370.7,516.6 371.9,517.8 371.4,519 371.7,520.2 371.7,521.4 371.5,522.6 371.5,523.8 371.2,524.7 370.5,524.8 369.8,524.7 369.1,525 368.4,525.4 367.7,525.1 367,525.5 366.3,525.2 365.6,524.8 364.9,524.7 364.2,525.1 363.5,525.3 362.8,525.1 362.1,524.8 361.4,525.1 360.7,525.3 360,525.2 359.3,525.3 358.6,525.2 357.9,524.9 357.2,524.9 356.5,524.8 355.8,524.6 355.1,524.4 354.4,524.3 353.7,524.3 353,524.6 352.3,524.8 351.6,524.5 350.9,524.7 350.2,525 349.5,524.6 348.8,523.8 348.1,523.4 347.4,523.9 346.7,524.2 346,524.5 345.3,524 344.6,524.6 343.9,524.5 343.2,524.9 342.5,525.3 341.8,525.3 341.1,525 340.4,525.1 339.7,524.6 339,524.8 338.3,524.5 337.6,524.8 336.9,524.7 336.2,524.3 335.5,524.2 334.8,523.4 334.1,524.1 333.4,523.6 332.7,523.6 332,523.4 331.3,523.6 330.6,523.8 329.9,524.2 329.2,524.3 328.5,524.5 327.8,524.5 327.1,524.1 326.4,523.6 325.7,523.2 325,523.9 324.3,523.2 323.6,523.7 322.9,524.3 322.2,523.9 321.5,524.3 320.8,523.6 320.1,523.1 319.4,523.8 318.7,523.4 318,523.9 317.3,523.2 316.6,523.4 315.9,523.2 315.2,523.5 314.5,523.6 313.8,523.2 313.1,523.1 312.4,523.5 311.7,522.4 311,522.9 310.3,522.3 309.6,522.8 308.9,522.9 308.2,523 307.5,523.4 306.8,523.4 306.1,522.9 305.4,523 304.7,522.9 304,522.7 303.3,522.8 302.6,523.1 301.9,522.5 301.2,522.6 300.5,522.4 299.8,521.8 299.1,522.6 298.4,522.2 297.7,522.4 297,522.1 296.3,522.1 295.6,521.8 294.9,522 294.2,522 293.5,522.1 292.8,522.2 292.1,522.1 291.4,521.9 290.7,521.3 290,522.1 289.3,521.9 288.6,521.7 287.9,521.2 287.2,520.8 286.5,520.5 285.8,520.7 285.1,520.1 284.4,520.3 283.7,520.2 283,520.6 282.3,521 281.6,520.7 280.9,520.7 280.2,521.4 279.5,520.3 278.8,520.9 278.1,520.8 277.4,520.3 276.7,520.8 276,520.9 275.3,520.8 274.6,521.3 273.9,520.8 273.2,521.5 272.5,521.9 271.8,522.1 271.1,522 270.4,521.7 269.7,522 269,521.7 268.3,521.7 267.6,521.9 266.9,522.6 266.2,522.1 265.5,522 264.8,522.2 264.1,521.8 263.4,522.3 262.7,521.7 262,521 261.3,520.8 260.6,520.5 259.9,519.6 259.2,518.9 258.5,518.8 257.8,518.4 257.1,517.7 256.4,517.5 255.7,517 255,517.4 254.3,517.2 253.6,517.2 252.9,517.7 252.2,517.2 251.5,517.4 250.8,517.6 250.1,517.3 249.4,517.2 248.7,517.1 248,517 247.3,516.8 246.6,516.6 245.9,516.2 245.2,516.5 244.5,516.8 243.8,516.7 243.1,517.1 242.4,516 241.7,515.9 241,515.2 240.3,515.8 239.6,515.9 238.9,517 238.2,517.2 237.5,516.5 236.8,515.8 236.1,514.9 235.4,514.4 234.7,514.1 234,515.4 233.3,515.8 232.6,516.5 231.9,516.6 231.2,516.2 230.5,515 229.8,514.2 229.1,514.2 228.4,514.5 227.7,514.8 227,515.1 226.3,515.3 225.6,515.1 224.9,514.5 224.2,514.1 223.5,513.3 222.8,514 222.1,514.7 221.4,515.5 220.7,516 220,515 219.3,514.2 218.6,514 217.9,513.7 217.2,513.7 216.5,514.4 215.8,514.6 215.1,515.3 214.4,515.3 213.7,514.6 213,513.9 212.3,513.5 211.6,513.3 210.9,513.7 210.2,513.9 209.5,513.3 208.8,513.3 208.1,513.1 207.4,512.9 206.7,512.7 206,512.4 205.3,512.6 204.6,512.5 203.9,512.5 203.2,513.1 202.5,513.3 201.8,513 201.1,512 200.4,511.8 199.7,512 199,511.5 198.3,511.5 197.6,512 196.9,512 196.2,511.5 195.5,510.8 194.8,511.2 194.1,511.3 193.4,510.7 192.7,511.2 192,511.4 191.3,510.6 190.6,510.2 189.9,511 189.2,510.4 188.5,510.8 187.8,511.1 187.1,510.8 186.4,510.4 185.7,510.9 185,511.1 184.3,510.9 183.6,510.3 182.9,510.6 182.2,510.4 181.5,510.6 180.8,511.3 180.1,511.2 179.4,512.1 178.7,512.5 178,512.9 177.3,513 176.6,512.8 175.9,512.6 175.2,512.1 174.5,512.6 173.8,512.2 173.1,512.6 172.4,512.2 171.7,512.4 171,512 170.3,512.5 169.6,512.1 168.9,512.6 168.2,511.4 167.5,511.6 166.8,511.3 166.1,511.1 165.4,511.5 164.7,511.2 164,511 163.3,510.8 162.6,510.6 161.9,510.9 161.2,510.7 160.5,509.7 159.8,509.9 159.1,509.4 158.4,508.5 157.7,508.4 157,508.1 156.3,507.8 155.6,507.4 154.9,506.6 154.2,506.6 153.5,506 152.8,506.1 152.1,506.6 151.4,506.8 150.7,507.5 150,507.3 149.3,506.7 148.6,508 147.9,507.4 147.2,508.2 146.5,508 145.8,508.8 145.1,508.3 144.4,508.3 143.7,509.1 143,508.4 142.3,508.5 141.6,508.1 140.9,508.3 140.2,508.9 139.5,509.6 138.8,510 138.1,510.2 137.4,509.9 136.7,509.6 136,509.2 135.3,510 134.6,509.8 133.9,509.4 133.2,509.6 132.5,509.8 131.8,509.1 131.1,508.9 130.4,509.5 129.7,508.7 129,508.8 128.3,508.4 127.6,508.3 126.9,508.4 126.2,508.5 125.5,508.7 124.8,508.5 124.1,509.2 123.4,509.6 122.7,509.8 122,508.9 121.3,509.1 120.6,509.1 119.9,509.2 119.2,509.5 118.5,509.7 117.8,510.6 117.1,510 116.4,510.3 115.7,510.4 115,509.9 114.3,510.5 113.6,510.3 112.9,510.5 112.2,511 111.5,510.7 110.8,510.8 110.1,511.1 109.4,510.9 108.7,511.5 108,511.3 107.3,511.7 106.6,510.9 105.9,511.5 105.2,511.5 104.5,511.6 103.8,512.2 103.1,511.7 102.4,512.2 101.7,511.7 101,511.9 100.3,512.5 99.6,513.1 98.9,512.8 98.2,513.2 97.5,513.1 96.8,513 96.1,513.1 95.4,513.8 94.7,513.2 94,513.7 93.3,513.6 92.6,513.5 91.9,514 91.2,514.1 90.5,514.3 89.8,514.3 89.1,514.5 88.4,514.7 87.7,514.6 87,514.9 86.3,514.8 85.6,514.2 84.9,514.2 84.2,514.8 83.5,515.2 82.8,515.2 82.1,515.3 81.4,515.4 80.7,514.9 80,515.1 79.3,514.8 78.6,515 77.9,515.3 77.2,515.4 76.5,515.4 75.8,515.4 75.1,516 74.4,515.3 73.7,515.7 73,516.2 72.3,515.7 71.6,515.8 70.9,515.8 70.2,515.2 69.5,515.3 68.8,515.3 68.1,515.1 67.4,515.9 66.7,515.7 66,515.6 65.3,516.2 64.6,515.4 63.9,515.7 63.2,516.4 62.5,515.9 61.8,516.6 61.1,516.4 60.4,516.6 59.7,517.2 59,516.9 58.3,516.9 57.6,517 56.9,517.1 56.2,516.7 55.5,516.6 54.8,516.4 54.1,515.4 53.4,515.2 52.7,514.1 53,513.5 52.5,512.3 52.9,511.1 53,509.9 52.9,508.7 53.1,507.5 52.9,506.3 53.2,505.1 53.1,503.9 53.7,502.7 52.8,501.5 53.7,500.3 53.6,499.1 52.8,497.9 53.7,496.7 53.3,495.5 53.6,494.3 53.6,493.1 53.9,491.9 53.7,490.7 53.9,489.5 53.5,488.3 53.4,487.1 54.1,485.9 54.6,484.7 53.5,483.5 54.6,482.3 54,481.1 54.4,479.9 54,478.7 54.6,477.5 54.3,476.3 54.8,475.1 54.2,473.9 54.4,472.7 54.8,471.5 54.2,470.3 55.3,469.1 54.9,467.9 55.4,466.7 54.5,465.5 55.2,464.3 54.7,463.1 54.6,461.9 55.1,460.7 55.1,459.5 55.3,458.3 55.2,457.1 55,455.9 55.6,454.7 55.2,453.5 55.3,452.3 55.9,451.1 55.8,449.9 56,448.7 56.2,447.5 56.2,446.3" fill="url(#vgC)"/>
</g>
<text x="24.599999999999998" y="535.9" text-anchor="end" class="t">0.0</text>
<text x="24.599999999999998" y="518.2" text-anchor="end" class="t">0.2</text>
<text x="24.599999999999998" y="501.1" text-anchor="end" class="t">0.4</text>
<text x="24.599999999999998" y="483.9" text-anchor="end" class="t">0.6</text>
<text x="24.599999999999998" y="467" text-anchor="end" class="t">0.8</text>
<text x="24.599999999999998" y="449" text-anchor="end" class="t">1.0</text>
<text x="24.599999999999998" y="432.2" text-anchor="end" class="t">1.2</text>
<text x="43.4" y="545.2" text-anchor="middle" class="t">0</text>
<text x="119.7" y="545.2" text-anchor="middle" class="t">20</text>
<text x="195.5" y="545.2" text-anchor="middle" class="t">40</text>
<text x="271.5" y="545.2" text-anchor="middle" class="t">60</text>
<text x="347" y="545.2" text-anchor="middle" class="t">80</text>
<text x="211.5" y="545.2" text-anchor="middle" class="t">y</text>
<text x="13.7" y="476.5" text-anchor="middle" class="t">z</text>
<path d="M374.0,530.7L398.0,538.3000000000001" stroke="#444" stroke-width=".6"/>
<path d="M380,532.6l-4,-1.6M384.2,533.9l-4,-1.6M388.4,535.3l-4,-1.6M392.6,536.6l-4,-1.6M396.8,537.9l-4,-1.6" stroke="#222" stroke-width=".6" fill="none"/>
<text x="384" y="540" text-anchor="middle" class="t">32</text>
<text x="387.6" y="540.9" text-anchor="middle" class="t">34</text>
<text x="391.2" y="541.8" text-anchor="middle" class="t">36</text>
<text x="394.8" y="542.7" text-anchor="middle" class="t">38</text>
<text x="398.4" y="543.6" text-anchor="middle" class="t">40</text>
<rect x="25.2" y="150.3" width="361.0" height="234.3" fill="#fff" stroke="#d4d4d4" stroke-width=".7"/>
<path d="M42.1,347.8L42.5,344.5L42.2,346.5L43,335L43.3,339L44,318L44.3,323L45,300L45.4,307L46,288L46.4,295L46.9,276L47.3,285L47.6,272L48.5,356L49.8,267.9L50,282L50.3,265.7L50.5,278.6L50.8,256.8L51,279.6L51.3,256.2L51.5,278.4L51.8,251.8L52,282.2L52.3,259.9L52.5,279.9L54.7,342L55.9,244.2L56.2,266.4L56.4,243.5L56.7,267.3L56.9,241L57.2,263.9L57.4,238.4L57.7,260.8L57.9,235.8L58.2,262.9L58.4,242.9L58.7,264.5L60.8,343.6L62.1,230.3L62.3,256.9L62.6,227.9L62.8,249.9L63.1,228.9L63.3,247.2L63.6,228.6L63.8,248.9L64.1,222.4L64.3,249.4L64.6,230.9L64.8,244.7L67,342.9L68.2,219.6L68.5,241.6L68.7,219L69,246.4L69.2,214.3L69.5,240.7L69.7,213.8L70,238.8L70.2,214L70.5,242.9L70.7,224.9L71,246L73.1,342L74.4,222L74.6,244.2L74.9,221.4L75.1,240L75.4,219.1L75.6,237L75.9,216.7L76.1,241.3L76.4,219L76.6,241.4L76.9,213.9L77.1,236.7L79.3,339.7L80.5,219.4L80.8,237.5L81,216.5L81.3,244.1L81.5,222.1L81.8,243.5L82,218.5L82.3,237.5L82.5,213.6L82.8,239.8L83,223.9L83.3,241.3L85.4,335.5L86.7,217.3L86.9,247.8L87.2,220.9L87.4,241.3L87.7,218.6L87.9,245L88.2,225.6L88.4,245.6L88.7,216.7L88.9,243.6L89.2,225.3L89.4,252.6L91.6,334L92.8,232.4L93.1,250.5L93.3,225.6L93.6,250L93.8,226.8L94.1,247.3L94.3,226.4L94.6,248.9L94.8,226.5L95.1,252.1L95.3,227.3L95.6,255.2L97.7,331.8L99,231.3L99.2,254.8L99.5,231.1L99.7,250.9L100,230.4L100.2,254.3L100.5,234.4L100.7,253.2L101,227.1L101.2,250.8L101.5,233.7L101.7,259.8L103.9,331.8L105.1,234.6L105.4,248.8L105.6,231L105.9,251.3L106.1,224.8L106.4,252.3L106.6,225.8L106.9,249L107.1,225.1L107.4,255.3L107.6,235.6L107.9,255.3L110,328.8L111.3,225.8L111.5,252.3L111.8,222.9L112,246.1L112.3,225.7L112.5,248.1L112.8,228.6L113,251.2L113.3,228L113.5,251.2L113.8,226L114,254.2L116.2,328L117.4,235.4L117.7,246.7L117.9,225.8L118.2,251.9L118.4,232.3L118.7,245.7L118.9,228.2L119.2,246.2L119.4,224L119.7,247.9L119.9,225.4L120.2,255.1L122.3,326.9L123.6,228.4L123.8,251.1L124.1,224.4L124.3,244.6L124.6,224.8L124.8,240.9L125.1,229.2L125.3,250.8L125.6,221.1L125.8,250L126.1,231.1L126.3,250.5L128.5,329.3L129.7,224.2L130,246.1L130.2,225.6L130.5,247.3L130.7,228L131,243.3L131.2,224.8L131.5,243.2L131.7,222.3L132,244.3L132.2,220.5L132.5,251.4L134.6,324.4L135.9,221.7L136.1,248L136.4,222.2L136.6,240.2L136.9,217.6L137.1,238.5L137.4,220.9L137.6,245.7L137.9,228.3L138.1,243.6L138.4,225.2L138.6,254.2L140.8,325.6L142,237.9L142.3,258L142.5,233.4L142.8,257.9L143,236L143.3,259L143.5,234.5L143.8,262.7L144,238.6L144.3,264.1L144.5,246L144.8,262.2L146.9,328L148.2,248.3L148.4,269.4L148.7,251.1L148.9,275.7L149.2,253.7L149.4,273.4L149.7,253.2L149.9,274L150.2,248.7L150.4,278.5L150.7,251.9L150.9,278.2L153.1,339.2L154.3,262.1L154.6,279.8L154.8,265.5L155.1,284.8L155.3,265.2L155.6,286.3L155.8,263.8L156.1,284.8L156.3,262.3L156.6,285.5L156.8,261.2L157.1,284.6L159.2,345.3L160.5,264.9L160.7,291.8L161,265.9L161.2,288.4L161.5,267L161.7,292.3L162,267.1L162.2,285L162.5,266.6L162.7,294.4L163,264.9L163.2,293.3L165.4,342.9L166.6,270.1L166.9,291.5L167.1,265.2L167.4,289.6L167.6,259.8L167.9,286.4L168.1,257.1L168.4,285.3L168.6,257.1L168.9,285.9L169.1,266.5L169.4,286.9L171.5,346.6L172.8,255.2L173,277.2L173.3,258.8L173.5,273.7L173.8,249.7L174,270.3L174.3,257L174.5,277.2L174.8,246.5L175,277.7L175.3,249.4L175.5,277.5L177.7,340.4L178.9,247.1L179.2,269.3L179.4,242L179.7,262.9L179.9,245.6L180.2,265.2L180.4,240L180.7,267.9L180.9,242.2L181.2,262.2L181.4,246.5L181.7,259.1L183.8,342.9L185.1,241.2L185.3,258.1L185.6,229.1L185.8,250.1L186.1,235.7L186.3,254.6L186.6,232.9L186.8,247.1L187.1,226.5L187.3,248.8L187.6,232.6L187.8,256.8L190,344.1L191.2,223.7L191.5,251.7L191.7,222.7L192,240L192.2,226.1L192.5,243.7L192.7,219.8L193,238.4L193.2,223.2L193.5,239.3L193.7,222L194,239.8L196.1,342.9L197.4,210L197.6,230.6L197.9,205.2L198.1,228.7L198.4,202.2L198.6,220.5L198.9,196.2L199.1,223.8L199.4,197L199.6,219.6L199.9,196.4L200.1,225.2L202.3,344.1L203.5,196.6L203.8,212.3L204,196.4L204.3,206.9L204.5,192.9L204.8,208.1L205,188.4L205.3,209.3L205.5,194.6L205.8,207.9L206,196.7L206.3,208.8L208.4,342.9L209.7,194L209.9,214.2L210.2,194.7L210.4,216.3L210.7,185.3L210.9,213.7L211.2,196.6L211.4,210.5L211.7,193.7L211.9,221.6L212.2,191.7L212.4,222.9L214.6,339.2L215.8,202.7L216.1,222.5L216.3,203.9L216.6,223.9L216.8,204.7L217.1,222.9L217.3,199.6L217.6,226.8L217.8,205.1L218.1,220L218.3,204.9L218.6,220.4L220.7,345.3L222,197.7L222.2,214.1L222.5,187.6L222.7,211L223,190.6L223.2,207.4L223.5,192.3L223.7,207.5L224,188.6L224.2,209L224.5,192.9L224.7,212.9L226.9,346.6L228.1,190.9L228.4,209.6L228.6,187.9L228.9,202.4L229.1,175.7L229.4,198.4L229.6,185.5L229.9,201.9L230.1,179.6L230.4,201.9L230.6,185.7L230.9,207.2L233,346.6L234.3,180.4L234.5,199.9L234.8,177.7L235,203.2L235.3,177.1L235.5,197L235.8,175.4L236,198.4L236.3,181.8L236.5,204L236.8,183.2L237,204.2L239.2,350.3L240.4,179.1L240.7,201.7L240.9,174.6L241.2,197.5L241.4,170.8L241.7,187.3L241.9,164.2L242.2,191.1L242.4,165.2L242.7,190.8L242.9,161.9L243.2,190.6L245.3,345.3L246.6,170.5L246.8,192.6L247.1,162.5L247.3,191.1L247.6,166L247.8,186.3L248.1,160.1L248.3,188.3L248.6,168.1L248.8,186L249.1,163.2L249.3,192.8L251.5,346.6L252.7,177.3L253,191.1L253.2,171.7L253.5,190.5L253.7,173.3L254,197L254.2,179.3L254.5,194.8L254.7,173.5L255,196L255.2,186.1L255.5,208.9L257.6,344.1L258.9,196.3L259.1,219.3L259.4,192.6L259.6,213.5L259.9,199.6L260.1,218.3L260.4,191.3L260.6,212.4L260.9,192L261.1,210L261.4,195.8L261.6,216.6L263.8,344.1L265,184L265.3,205.6L265.5,189.3L265.8,199.7L266,183.6L266.3,203.2L266.5,177.3L266.8,202.7L267,174.8L267.3,202.5L267.5,177.4L267.8,202.1L269.9,320.7L271.2,167.2L271.4,191.1L271.7,160.9L271.9,183.3L272.2,163.2L272.4,181.9L272.7,167.9L272.9,191.2L273.2,166.7L273.4,188.8L273.7,170.9L273.9,190.4L276.1,334L277.3,174.9L277.6,191L277.8,162.6L278.1,190.2L278.3,164.2L278.6,187.7L278.8,167.6L279.1,190.4L279.3,167.7L279.6,186.9L279.8,167.8L280.1,196.1L282.2,312L283.5,166.2L283.7,191L284,171L284.2,191.2L284.5,166.9L284.7,188.9L285,165.7L285.2,191.6L285.5,173.1L285.7,186.1L286,172.9L286.2,190.1L288.4,336.7L289.6,174.2L289.9,192.4L290.1,178.8L290.4,195.3L290.6,177.9L290.9,197.6L291.1,174.9L291.4,192.7L291.6,173.1L291.9,201.8L292.1,178.7L292.4,195.9L294.5,351.5L295.8,180.6L296,202.6L296.3,172.4L296.5,194.1L296.8,181.2L297,195.1L297.3,177.9L297.5,200.5L297.8,175.1L298,202.2L298.3,180.4L298.5,201.1L300.7,357.7L301.9,177.2L302.2,197.6L302.4,185.5L302.7,195.6L302.9,175.5L303.2,200.4L303.4,176.7L303.7,202.5L303.9,176.6L304.2,202.8L304.4,184.1L304.7,200.6L306.8,334.3L308.1,186L308.3,202.1L308.6,178.4L308.8,206.8L309.1,184.4L309.3,203.4L309.6,182.3L309.8,205.1L310.1,178.3L310.3,203.2L310.6,184.2L310.8,208.3L313,346.6L314.2,183.9L314.5,206.3L314.7,185.5L315,203.4L315.2,185.7L315.5,212.6L315.7,183.9L316,203.2L316.2,182.4L316.5,210.8L316.7,189.3L317,217.9L319.1,344.1L320.4,194L320.6,212.4L320.9,194.3L321.1,217.6L321.4,194.6L321.6,211.7L321.9,195.8L322.1,212.7L322.4,201.4L322.6,215.8L322.9,200.1L323.1,221.6L325.3,363.8L326.5,215.3L326.8,235.3L327,209L327.3,234.4L327.5,212.6L327.8,231.4L328,211.3L328.3,230.5L328.5,210.4L328.8,233.1L329,211.1L329.3,239.1L331.4,350.3L332.7,212.8L332.9,232.9L333.2,208.9L333.4,228.9L333.7,207.5L333.9,232.5L334.2,212.8L334.4,234.7L334.7,215.3L334.9,228.1L335.2,215.3L335.4,235.4L337.6,370L338.8,211.9L339.1,231.6L339.3,210.2L339.6,237L339.8,204L340.1,233.1L340.3,211.3L340.6,230.6L340.8,206.6L341.1,236.6L341.3,206.8L341.6,233.1L343.7,367.5L345,214.1L345.2,230.8L345.5,207L345.7,235.9L346,208.1L346.2,229.4L346.5,206.8L346.7,229.6L347,209L347.2,228.7L347.5,216.2L347.7,233.4L349.9,373.7L351.1,216.7L351.3,230.7L351.6,207L351.8,234.7L352.1,211.5L352.3,236.7L352.6,214L352.8,229.6L353.1,206L353.3,237.6L353.6,208.6L353.8,230.8L356,361.4L357.2,209.8L357.5,226L357.7,213L358,233.1L358.2,212.8L358.5,224.3L358.7,212L359,232.1L359.2,207.8L359.5,228.7L359.7,212.8L360,239.7L362.1,360.1L363.4,220.8L363.6,233.5L363.9,214.5L364.1,232.4L364.4,214L364.6,233.1L364.9,219.5L365.1,237.8L365.4,212.5L365.6,235.5L365.9,220.9L366.1,245L368.3,372.4L369.9,328" fill="none" stroke="#b2b200" stroke-width=".46" stroke-linejoin="round" opacity=".68"/>
<path d="M41.80,295.0L42.05,293.6L42.30,289.4L42.55,282.8L42.80,274.2L43.05,264.1L43.30,253.2L43.55,242.1L43.80,231.7L44.05,222.5L44.30,215.3L44.55,210.4L44.80,208.1L45.05,208.7L45.30,212.0L45.55,218.0L45.80,226.0L46.05,235.8L46.30,246.5L46.55,257.6L46.80,268.3L47.05,277.9L47.30,285.8L47.55,291.4L47.80,294.5L48.05,294.8L48.30,292.2L48.55,287.1L48.80,279.6L49.05,270.3L49.30,259.7L49.55,248.7L49.80,237.8L50.05,227.8L50.30,219.4L50.55,213.0L50.80,209.1L51.05,208.0L51.30,209.7L51.55,214.1L51.80,221.0L52.05,229.8L52.30,240.0L52.55,251.0L52.80,262.0L53.05,272.4L53.30,281.3L53.55,288.4L53.80,293.0L54.05,294.9L54.30,294.1L54.55,290.4L54.80,284.3L55.05,276.0L55.30,266.1L55.55,255.3L55.80,244.2L56.05,233.6L56.30,224.2L56.55,216.5L56.80,211.1L57.05,208.3L57.30,208.4L57.55,211.2L57.80,216.6L58.05,224.3L58.30,233.8L58.55,244.4L58.80,255.5L59.05,266.3L59.30,276.2L59.55,284.4L59.80,290.5L60.05,294.1L60.30,294.9L60.55,292.9L60.80,288.2L61.05,281.2L61.30,272.2L61.55,261.8L61.80,250.8L62.05,239.8L62.30,229.6L62.55,220.8L62.80,214.0L63.05,209.7L63.30,208.0L63.55,209.2L63.80,213.1L64.05,219.5L64.30,228.0L64.55,238.0L64.80,248.9L65.05,259.9L65.30,270.5L65.55,279.7L65.80,287.2L66.05,292.3L66.30,294.8L66.55,294.5L66.80,291.3L67.05,285.6L67.30,277.7L67.55,268.1L67.80,257.4L68.05,246.3L68.30,235.6L68.55,225.9L68.80,217.8L69.05,212.0L69.30,208.7L69.55,208.1L69.80,210.4L70.05,215.4L70.30,222.7L70.55,231.9L70.80,242.3L71.05,253.4L71.30,264.3L71.55,274.4L71.80,283.0L72.05,289.6L72.30,293.6L72.55,295.0L72.80,293.5L73.05,289.3L73.30,282.7L73.55,274.0L73.80,263.9L74.05,252.9L74.30,241.9L74.55,231.5L74.80,222.4L75.05,215.2L75.30,210.3L75.55,208.1L75.80,208.7L76.05,212.1L76.30,218.1L76.55,226.2L76.80,236.0L77.05,246.8L77.30,257.8L77.55,268.5L77.80,278.1L78.05,285.9L78.30,291.5L78.55,294.5L78.80,294.7L79.05,292.2L79.30,286.9L79.55,279.4L79.80,270.1L80.05,259.5L80.30,248.4L80.55,237.6L80.80,227.6L81.05,219.2L81.30,212.9L81.55,209.1L81.80,208.0L82.05,209.8L82.30,214.3L82.55,221.1L82.80,230.0L83.05,240.3L83.30,251.2L83.55,262.2L83.80,272.5L84.05,281.5L84.30,288.5L84.55,293.1L84.80,295.0L85.05,294.0L85.30,290.3L85.55,284.1L85.80,275.8L86.05,265.9L86.30,255.1L86.55,244.0L86.80,233.4L87.05,224.0L87.30,216.4L87.55,211.0L87.80,208.3L88.05,208.4L88.30,211.3L88.55,216.8L88.80,224.5L89.05,234.0L89.30,244.7L89.55,255.7L89.80,266.5L90.05,276.4L90.30,284.6L90.55,290.6L90.80,294.2L91.05,294.9L91.30,292.9L91.55,288.1L91.80,281.0L92.05,272.0L92.30,261.6L92.55,250.6L92.80,239.6L93.05,229.4L93.30,220.7L93.55,213.9L93.80,209.6L94.05,208.0L94.30,209.2L94.55,213.2L94.80,219.7L95.05,228.2L95.30,238.2L95.55,249.1L95.80,260.2L96.05,270.7L96.30,279.9L96.55,287.3L96.80,292.4L97.05,294.8L97.30,294.4L97.55,291.3L97.80,285.5L98.05,277.5L98.30,267.9L98.55,257.2L98.80,246.1L99.05,235.4L99.30,225.7L99.55,217.7L99.80,211.9L100.05,208.6L100.30,208.2L100.55,210.5L100.80,215.5L101.05,222.9L101.30,232.1L101.55,242.6L101.80,253.6L102.05,264.5L102.30,274.6L102.55,283.1L102.80,289.7L103.05,293.7L103.30,295.0L103.55,293.5L103.80,289.2L104.05,282.5L104.30,273.8L104.55,263.7L104.80,252.7L105.05,241.7L105.30,231.3L105.55,222.2L105.80,215.0L106.05,210.2L106.30,208.1L106.55,208.8L106.80,212.2L107.05,218.2L107.30,226.4L107.55,236.2L107.80,247.0L108.05,258.1L108.30,268.7L108.55,278.3L108.80,286.1L109.05,291.6L109.30,294.6L109.55,294.7L109.80,292.1L110.05,286.8L110.30,279.2L110.55,269.9L110.80,259.3L111.05,248.2L111.30,237.4L111.55,227.4L111.80,219.1L112.05,212.8L112.30,209.0L112.55,208.0L112.80,209.9L113.05,214.4L113.30,221.3L113.55,230.2L113.80,240.5L114.05,251.5L114.30,262.5L114.55,272.7L114.80,281.6L115.05,288.6L115.30,293.1L115.55,295.0L115.80,294.0L116.05,290.2L116.30,284.0L116.55,275.6L116.80,265.7L117.05,254.8L117.30,243.8L117.55,233.2L117.80,223.8L118.05,216.2L118.30,211.0L118.55,208.3L118.80,208.4L119.05,211.4L119.30,216.9L119.55,224.7L119.80,234.2L120.05,244.9L120.30,255.9L120.55,266.7L120.80,276.5L121.05,284.7L121.30,290.7L121.55,294.2L121.80,294.9L122.05,292.8L122.30,288.0L122.55,280.8L122.80,271.8L123.05,261.4L123.30,250.4L123.55,239.4L123.80,229.2L124.05,220.5L124.30,213.8L124.55,209.5L124.80,208.0L125.05,209.3L125.30,213.3L125.55,219.8L125.80,228.4L126.05,238.4L126.30,249.3L126.55,260.4L126.80,270.9L127.05,280.1L127.30,287.4L127.55,292.5L127.80,294.8L128.05,294.4L128.30,291.2L128.55,285.4L128.80,277.4L129.05,267.7L129.30,257.0L129.55,245.9L129.80,235.2L130.05,225.5L130.30,217.5L130.55,211.8L130.80,208.6L131.05,208.2L131.30,210.6L131.55,215.7L131.80,223.0L132.05,232.3L132.30,242.8L132.55,253.8L132.80,264.7L133.05,274.8L133.30,283.3L133.55,289.8L133.80,293.8L134.05,295.0L134.30,293.4L134.55,289.1L134.80,282.4L135.05,273.6L135.30,263.4L135.55,252.5L135.80,241.5L136.05,231.1L136.30,222.1L136.55,214.9L136.80,210.2L137.05,208.1L137.30,208.8L137.55,212.3L137.80,218.4L138.05,226.6L138.30,236.4L138.55,247.2L138.80,258.3L139.05,268.9L139.30,278.4L139.55,286.2L139.80,291.7L140.05,294.6L140.30,294.7L140.55,292.0L140.80,286.7L141.05,279.1L141.30,269.7L141.55,259.1L141.80,248.0L142.05,237.2L142.30,227.2L142.55,218.9L142.80,212.7L143.05,209.0L143.30,208.0L143.55,209.9L143.80,214.5L144.05,221.5L144.30,230.4L144.55,240.7L144.80,251.7L145.05,262.7L145.30,272.9L145.55,281.8L145.80,288.7L146.05,293.2L146.30,295.0L146.55,293.9L146.80,290.1L147.05,283.8L147.30,275.4L147.55,265.5L147.80,254.6L148.05,243.6L148.30,233.0L148.55,223.7L148.80,216.1L149.05,210.9L149.30,208.3L149.55,208.5L149.80,211.5L150.05,217.0L150.30,224.9L150.55,234.4L150.80,245.1L151.05,256.2L151.30,266.9L151.55,276.7L151.80,284.9L152.05,290.8L152.30,294.2L152.55,294.9L152.80,292.7L153.05,287.9L153.30,280.7L153.55,271.6L153.80,261.2L154.05,250.1L154.30,239.2L154.55,229.0L154.80,220.4L155.05,213.7L155.30,209.5L155.55,208.0L155.80,209.3L156.05,213.4L156.30,220.0L156.55,228.6L156.80,238.6L157.05,249.6L157.30,260.6L157.55,271.1L157.80,280.2L158.05,287.6L158.30,292.5L158.55,294.9L158.80,294.4L159.05,291.1L159.30,285.2L159.55,277.2L159.80,267.5L160.05,256.7L160.30,245.7L160.55,235.0L160.80,225.3L161.05,217.4L161.30,211.7L161.55,208.5L161.80,208.2L162.05,210.7L162.30,215.8L162.55,223.2L162.80,232.5L163.05,243.0L163.30,254.0L163.55,264.9L163.80,275.0L164.05,283.4L164.30,289.9L164.55,293.8L164.80,295.0L165.05,293.4L165.30,289.0L165.55,282.2L165.80,273.4L166.05,263.2L166.30,252.3L166.55,241.3L166.80,230.9L167.05,221.9L167.30,214.8L167.55,210.1L167.80,208.1L168.05,208.9L168.30,212.4L168.55,218.5L168.80,226.8L169.05,236.6L169.30,247.4L169.55,258.5L169.80,269.1L170.05,278.6L170.30,286.3L170.55,291.8L170.80,294.6L171.05,294.7L171.30,291.9L171.55,286.5L171.80,278.9L172.05,269.4L172.30,258.9L172.55,247.8L172.80,237.0L173.05,227.1L173.30,218.8L173.55,212.6L173.80,208.9L174.05,208.0L174.30,210.0L174.55,214.6L174.80,221.6L175.05,230.6L175.30,240.9L175.55,251.9L175.80,262.9L176.05,273.1L176.30,282.0L176.55,288.8L176.80,293.3L177.05,295.0L177.30,293.9L177.55,290.0L177.80,283.7L178.05,275.3L178.30,265.3L178.55,254.4L178.80,243.3L179.05,232.8L179.30,223.5L179.55,216.0L179.80,210.8L180.05,208.2L180.30,208.5L180.55,211.5L180.80,217.2L181.05,225.0L181.30,234.6L181.55,245.3L181.80,256.4L182.05,267.2L182.30,276.9L182.55,285.0L182.80,290.9L183.05,294.3L183.30,294.9L183.55,292.7L183.80,287.8L184.05,280.5L184.30,271.4L184.55,260.9L184.80,249.9L185.05,239.0L185.30,228.9L185.55,220.2L185.80,213.6L186.05,209.4L186.30,208.0L186.55,209.4L186.80,213.5L187.05,220.1L187.30,228.7L187.55,238.9L187.80,249.8L188.05,260.8L188.30,271.3L188.55,280.4L188.80,287.7L189.05,292.6L189.30,294.9L189.55,294.3L189.80,291.0L190.05,285.1L190.30,277.0L190.55,267.3L190.80,256.5L191.05,245.4L191.30,234.8L191.55,225.2L191.80,217.3L192.05,211.6L192.30,208.5L192.55,208.2L192.80,210.7L193.05,215.9L193.30,223.4L193.55,232.7L193.80,243.2L194.05,254.3L194.30,265.1L194.55,275.1L194.80,283.6L195.05,290.0L195.30,293.9L195.55,295.0L195.80,293.3L196.05,288.9L196.30,282.1L196.55,273.2L196.80,263.0L197.05,252.0L197.30,241.0L197.55,230.7L197.80,221.7L198.05,214.7L198.30,210.0L198.55,208.1L198.80,208.9L199.05,212.5L199.30,218.7L199.55,227.0L199.80,236.8L200.05,247.6L200.30,258.7L200.55,269.3L200.80,278.8L201.05,286.5L201.30,291.9L201.55,294.7L201.80,294.6L202.05,291.8L202.30,286.4L202.55,278.7L202.80,269.2L203.05,258.6L203.30,247.6L203.55,236.7L203.80,226.9L204.05,218.6L204.30,212.5L204.55,208.9L204.80,208.1L205.05,210.0L205.30,214.7L205.55,221.8L205.80,230.8L206.05,241.1L206.30,252.1L206.55,263.1L206.80,273.3L207.05,282.1L207.30,288.9L207.55,293.3L207.80,295.0L208.05,293.8L208.30,289.9L208.55,283.5L208.80,275.1L209.05,265.1L209.30,254.2L209.55,243.1L209.80,232.6L210.05,223.3L210.30,215.9L210.55,210.7L210.80,208.2L211.05,208.5L211.30,211.6L211.55,217.3L211.80,225.2L212.05,234.8L212.30,245.5L212.55,256.6L212.80,267.4L213.05,277.1L213.30,285.1L213.55,291.0L213.80,294.3L214.05,294.9L214.30,292.6L214.55,287.6L214.80,280.3L215.05,271.2L215.30,260.7L215.55,249.7L215.80,238.8L216.05,228.7L216.30,220.1L216.55,213.5L216.80,209.4L217.05,208.0L217.30,209.5L217.55,213.6L217.80,220.3L218.05,228.9L218.30,239.1L218.55,250.0L218.80,261.0L219.05,271.4L219.30,280.6L219.55,287.8L219.80,292.7L220.05,294.9L220.30,294.3L220.55,290.9L220.80,284.9L221.05,276.8L221.30,267.1L221.55,256.3L221.80,245.2L222.05,234.5L222.30,225.0L222.55,217.1L222.80,211.5L223.05,208.5L223.30,208.2L223.55,210.8L223.80,216.0L224.05,223.6L224.30,232.9L224.55,243.4L224.80,254.5L225.05,265.4L225.30,275.3L225.55,283.7L225.80,290.1L226.05,293.9L226.30,295.0L226.55,293.2L226.80,288.8L227.05,281.9L227.30,273.1L227.55,262.8L227.80,251.8L228.05,240.8L228.30,230.5L228.55,221.6L228.80,214.6L229.05,210.0L229.30,208.0L229.55,209.0L229.80,212.6L230.05,218.8L230.30,227.1L230.55,237.0L230.80,247.9L231.05,258.9L231.30,269.5L231.55,278.9L231.80,286.6L232.05,291.9L232.30,294.7L232.55,294.6L232.80,291.7L233.05,286.3L233.30,278.5L233.55,269.0L233.80,258.4L234.05,247.3L234.30,236.5L234.55,226.7L234.80,218.5L235.05,212.4L235.30,208.8L235.55,208.1L235.80,210.1L236.05,214.8L236.30,222.0L236.55,231.0L236.80,241.3L237.05,252.4L237.30,263.3L237.55,273.5L237.80,282.3L238.05,289.0L238.30,293.4L238.55,295.0L238.80,293.8L239.05,289.8L239.30,283.4L239.55,274.9L239.80,264.8L240.05,254.0L240.30,242.9L240.55,232.4L240.80,223.1L241.05,215.7L241.30,210.6L241.55,208.2L241.80,208.6L242.05,211.7L242.30,217.5L242.55,225.4L242.80,235.0L243.05,245.7L243.30,256.8L243.55,267.6L243.80,277.3L244.05,285.3L244.30,291.1L244.55,294.4L244.80,294.8L245.05,292.5L245.30,287.5L245.55,280.2L245.80,271.0L246.05,260.5L246.30,249.5L246.55,238.6L246.80,228.5L247.05,219.9L247.30,213.4L247.55,209.3L247.80,208.0L248.05,209.5L248.30,213.7L248.55,220.4L248.80,229.1L249.05,239.3L249.30,250.2L249.55,261.3L249.80,271.6L250.05,280.7L250.30,287.9L250.55,292.8L250.80,294.9L251.05,294.2L251.30,290.8L251.55,284.8L251.80,276.6L252.05,266.9L252.30,256.1L252.55,245.0L252.80,234.3L253.05,224.8L253.30,217.0L253.55,211.4L253.80,208.4L254.05,208.3L254.30,210.9L254.55,216.2L254.80,223.7L255.05,233.1L255.30,243.6L255.55,254.7L255.80,265.6L256.05,275.5L256.30,283.9L256.55,290.2L256.80,294.0L257.05,295.0L257.30,293.2L257.55,288.7L257.80,281.7L258.05,272.9L258.30,262.6L258.55,251.6L258.80,240.6L259.05,230.3L259.30,221.4L259.55,214.4L259.80,209.9L260.05,208.0L260.30,209.0L260.55,212.7L260.80,219.0L261.05,227.3L261.30,237.2L261.55,248.1L261.80,259.2L262.05,269.7L262.30,279.1L262.55,286.7L262.80,292.0L263.05,294.7L263.30,294.6L263.55,291.7L263.80,286.1L264.05,278.4L264.30,268.8L264.55,258.2L264.80,247.1L265.05,236.3L265.30,226.5L265.55,218.3L265.80,212.3L266.05,208.8L266.30,208.1L266.55,210.2L266.80,215.0L267.05,222.1L267.30,231.2L267.55,241.6L267.80,252.6L268.05,263.5L268.30,273.7L268.55,282.4L268.80,289.2L269.05,293.4L269.30,295.0L269.55,293.7L269.80,289.7L270.05,283.2L270.30,274.7L270.55,264.6L270.80,253.7L271.05,242.7L271.30,232.2L271.55,223.0L271.80,215.6L272.05,210.6L272.30,208.2L272.55,208.6L272.80,211.8L273.05,217.6L273.30,225.6L273.55,235.2L273.80,246.0L274.05,257.1L274.30,267.8L274.55,277.4L274.80,285.4L275.05,291.2L275.30,294.4L275.55,294.8L275.80,292.4L276.05,287.4L276.30,280.0L276.55,270.8L276.80,260.3L277.05,249.2L277.30,238.3L277.55,228.3L277.80,219.7L278.05,213.3L278.30,209.3L278.55,208.0L278.80,209.6L279.05,213.9L279.30,220.6L279.55,229.3L279.80,239.5L280.05,250.4L280.30,261.5L280.55,271.8L280.80,280.9L281.05,288.0L281.30,292.8L281.55,294.9L281.80,294.2L282.05,290.7L282.30,284.7L282.55,276.5L282.80,266.7L283.05,255.9L283.30,244.8L283.55,234.1L283.80,224.6L284.05,216.9L284.30,211.3L284.55,208.4L284.80,208.3L285.05,211.0L285.30,216.3L285.55,223.9L285.80,233.3L286.05,243.9L286.30,254.9L286.55,265.8L286.80,275.7L287.05,284.0L287.30,290.3L287.55,294.0L287.80,295.0L288.05,293.1L288.30,288.5L288.55,281.6L288.80,272.7L289.05,262.4L289.30,251.4L289.55,240.4L289.80,230.1L290.05,221.2L290.30,214.3L290.55,209.8L290.80,208.0L291.05,209.1L291.30,212.8L291.55,219.1L291.80,227.5L292.05,237.5L292.30,248.3L292.55,259.4L292.80,269.9L293.05,279.3L293.30,286.8L293.55,292.1L293.80,294.7L294.05,294.5L294.30,291.6L294.55,286.0L294.80,278.2L295.05,268.6L295.30,258.0L295.55,246.9L295.80,236.1L296.05,226.3L296.30,218.2L296.55,212.2L296.80,208.8L297.05,208.1L297.30,210.3L297.55,215.1L297.80,222.3L298.05,231.4L298.30,241.8L298.55,252.8L298.80,263.7L299.05,273.9L299.30,282.6L299.55,289.3L299.80,293.5L300.05,295.0L300.30,293.7L300.55,289.6L300.80,283.1L301.05,274.5L301.30,264.4L301.55,253.5L301.80,242.5L302.05,232.0L302.30,222.8L302.55,215.5L302.80,210.5L303.05,208.2L303.30,208.6L303.55,211.9L303.80,217.7L304.05,225.8L304.30,235.5L304.55,246.2L304.80,257.3L305.05,268.0L305.30,277.6L305.55,285.6L305.80,291.3L306.05,294.4L306.30,294.8L306.55,292.4L306.80,287.3L307.05,279.8L307.30,270.6L307.55,260.1L307.80,249.0L308.05,238.1L308.30,228.1L308.55,219.6L308.80,213.2L309.05,209.2L309.30,208.0L309.55,209.6L309.80,214.0L310.05,220.7L310.30,229.5L310.55,239.7L310.80,250.7L311.05,261.7L311.30,272.0L311.55,281.1L311.80,288.2L312.05,292.9L312.30,294.9L312.55,294.1L312.80,290.6L313.05,284.5L313.30,276.3L313.55,266.4L313.80,255.6L314.05,244.6L314.30,233.9L314.55,224.5L314.80,216.7L315.05,211.2L315.30,208.4L315.55,208.3L315.80,211.1L316.05,216.4L316.30,224.1L316.55,233.5L316.80,244.1L317.05,255.2L317.30,266.0L317.55,275.9L317.80,284.2L318.05,290.4L318.30,294.0L318.55,295.0L318.80,293.0L319.05,288.4L319.30,281.4L319.55,272.5L319.80,262.2L320.05,251.2L320.30,240.2L320.55,229.9L320.80,221.1L321.05,214.2L321.30,209.8L321.55,208.0L321.80,209.1L322.05,212.9L322.30,219.3L322.55,227.7L322.80,237.7L323.05,248.5L323.30,259.6L323.55,270.1L323.80,279.5L324.05,287.0L324.30,292.2L324.55,294.8L324.80,294.5L325.05,291.5L325.30,285.9L325.55,278.0L325.80,268.4L326.05,257.8L326.30,246.7L326.55,235.9L326.80,226.2L327.05,218.0L327.30,212.1L327.55,208.7L327.80,208.1L328.05,210.3L328.30,215.2L328.55,222.4L328.80,231.6L329.05,242.0L329.30,253.0L329.55,264.0L329.80,274.1L330.05,282.7L330.30,289.4L330.55,293.6L330.80,295.0L331.05,293.6L331.30,289.5L331.55,282.9L331.80,274.3L332.05,264.2L332.30,253.3L332.55,242.2L332.80,231.8L333.05,222.6L333.30,215.4L333.55,210.4L333.80,208.1L334.05,208.7L334.30,212.0L334.55,217.9L334.80,225.9L335.05,235.7L335.30,246.4L335.55,257.5L335.80,268.2L336.05,277.8L336.30,285.7L336.55,291.4L336.80,294.5L337.05,294.8L337.30,292.3L337.55,287.1L337.80,279.7L338.05,270.4L338.30,259.9L338.55,248.8L338.80,237.9L339.05,227.9L339.30,219.4L339.55,213.1L339.80,209.2L340.05,208.0L340.30,209.7L340.55,214.1L340.80,220.9L341.05,229.7L341.30,239.9L341.55,250.9L341.80,261.9L342.05,272.2L342.30,281.2L342.55,288.3L342.80,293.0L343.05,294.9L343.30,294.1L343.55,290.5L343.80,284.4L344.05,276.1L344.30,266.2L344.55,255.4L344.80,244.3L345.05,233.7L345.30,224.3L345.55,216.6L345.80,211.2L346.05,208.4L346.30,208.4L346.55,211.1L346.80,216.6L347.05,224.2L347.30,233.7L347.55,244.3L347.80,255.4L348.05,266.2L348.30,276.1L348.55,284.3L348.80,290.5L349.05,294.1L349.30,294.9L349.55,293.0L349.80,288.3L350.05,281.3L350.30,272.3L350.55,261.9L350.80,250.9L351.05,240.0L351.30,229.7L351.55,220.9L351.80,214.1L352.05,209.7L352.30,208.0L352.55,209.1L352.80,213.0L353.05,219.4L353.30,227.9L353.55,237.9L353.80,248.8L354.05,259.8L354.30,270.3L354.55,279.6L354.80,287.1L355.05,292.3L355.30,294.8L355.55,294.5L355.80,291.4L356.05,285.7L356.30,277.8L356.55,268.2L356.80,257.5L357.05,246.5L357.30,235.7L357.55,226.0L357.80,217.9L358.05,212.0L358.30,208.7L358.55,208.1L358.80,210.4L359.05,215.3L359.30,222.6L359.55,231.8L359.80,242.2L360.05,253.2L360.30,264.2L360.55,274.3L360.80,282.9L361.05,289.5L361.30,293.6L361.55,295.0L361.80,293.6L362.05,289.4L362.30,282.8L362.55,274.1L362.80,264.0L363.05,253.1L363.30,242.0L363.55,231.6L363.80,222.5L364.05,215.2L364.30,210.3L364.55,208.1L364.80,208.7L365.05,212.1L365.30,218.0L365.55,226.1L365.80,235.9L366.05,246.6L366.30,257.7L366.55,268.4L366.80,278.0L367.05,285.8L367.30,291.5L367.55,294.5L367.80,294.8L368.05,292.2L368.30,287.0L368.55,279.5L368.80,270.2L369.05,259.6" fill="none" stroke="#1818ff" stroke-width=".95" stroke-dasharray=".75 .8"/>
<circle cx="41.8" cy="295" r="1.3" fill="#000"/>
<circle cx="47.9" cy="295" r="1.3" fill="#000"/>
<circle cx="54.1" cy="295" r="1.3" fill="#000"/>
<circle cx="60.2" cy="295" r="1.3" fill="#000"/>
<circle cx="66.4" cy="295" r="1.3" fill="#000"/>
<circle cx="72.5" cy="295" r="1.3" fill="#000"/>
<circle cx="78.7" cy="295" r="1.3" fill="#000"/>
<circle cx="84.8" cy="295" r="1.3" fill="#000"/>
<circle cx="91" cy="295" r="1.3" fill="#000"/>
<circle cx="97.1" cy="295" r="1.3" fill="#000"/>
<circle cx="103.3" cy="295" r="1.3" fill="#000"/>
<circle cx="109.4" cy="295" r="1.3" fill="#000"/>
<circle cx="115.6" cy="295" r="1.3" fill="#000"/>
<circle cx="121.7" cy="295" r="1.3" fill="#000"/>
<circle cx="127.9" cy="295" r="1.3" fill="#000"/>
<circle cx="134" cy="295" r="1.3" fill="#000"/>
<circle cx="140.2" cy="295" r="1.3" fill="#000"/>
<circle cx="146.3" cy="295" r="1.3" fill="#000"/>
<circle cx="152.5" cy="295" r="1.3" fill="#000"/>
<circle cx="158.6" cy="295" r="1.3" fill="#000"/>
<circle cx="164.8" cy="295" r="1.3" fill="#000"/>
<circle cx="170.9" cy="295" r="1.3" fill="#000"/>
<circle cx="177.1" cy="295" r="1.3" fill="#000"/>
<circle cx="183.2" cy="295" r="1.3" fill="#000"/>
<circle cx="189.4" cy="295" r="1.3" fill="#000"/>
<circle cx="195.5" cy="295" r="1.3" fill="#000"/>
<circle cx="201.7" cy="295" r="1.3" fill="#000"/>
<circle cx="207.8" cy="295" r="1.3" fill="#000"/>
<circle cx="214" cy="295" r="1.3" fill="#000"/>
<circle cx="220.1" cy="295" r="1.3" fill="#000"/>
<circle cx="226.3" cy="295" r="1.3" fill="#000"/>
<circle cx="232.4" cy="295" r="1.3" fill="#000"/>
<circle cx="238.6" cy="295" r="1.3" fill="#000"/>
<circle cx="244.7" cy="295" r="1.3" fill="#000"/>
<circle cx="250.9" cy="295" r="1.3" fill="#000"/>
<circle cx="257" cy="295" r="1.3" fill="#000"/>
<circle cx="263.2" cy="295" r="1.3" fill="#000"/>
<circle cx="269.3" cy="295" r="1.3" fill="#000"/>
<circle cx="275.5" cy="295" r="1.3" fill="#000"/>
<circle cx="281.6" cy="295" r="1.3" fill="#000"/>
<circle cx="287.8" cy="295" r="1.3" fill="#000"/>
<circle cx="293.9" cy="295" r="1.3" fill="#000"/>
<circle cx="300.1" cy="295" r="1.3" fill="#000"/>
<circle cx="306.2" cy="295" r="1.3" fill="#000"/>
<circle cx="312.4" cy="295" r="1.3" fill="#000"/>
<circle cx="318.5" cy="295" r="1.3" fill="#000"/>
<circle cx="324.7" cy="295" r="1.3" fill="#000"/>
<circle cx="330.8" cy="295" r="1.3" fill="#000"/>
<circle cx="337" cy="295" r="1.3" fill="#000"/>
<circle cx="343.1" cy="295" r="1.3" fill="#000"/>
<circle cx="349.2" cy="295" r="1.3" fill="#000"/>
<circle cx="355.4" cy="295" r="1.3" fill="#000"/>
<circle cx="361.5" cy="295" r="1.3" fill="#000"/>
<circle cx="367.7" cy="295" r="1.3" fill="#000"/>
<rect x="26.3" y="151.8" width="126.8" height="20.4" rx="1" fill="#fff" stroke="#e2e2e2" stroke-width=".5"/>
<path d="M28.8,155.8h8.8" stroke="#dcdc78" stroke-width=".9"/>
<path d="M28.8,162.4h8.8" stroke="#2020ff" stroke-width=".8" stroke-dasharray="1 .8"/>
<circle cx="33.3" cy="168.9" r="2.1" fill="#000"/>
<text x="41" y="157.4" class="l">Mean height projection in not-dominant coordinate</text>
<text x="41" y="164" class="l">Fourier transform</text>
<text x="41" y="170.6" class="l">Suplot borders</text>
<path d="M25.2,381.4h-1" stroke="#bbb" stroke-width=".4"/>
<text x="23.4" y="382.4" text-anchor="end" class="s">0.1</text>
<path d="M25.2,355.3h-1" stroke="#bbb" stroke-width=".4"/>
<text x="23.4" y="356.3" text-anchor="end" class="s">0.2</text>
<path d="M25.2,329.2h-1" stroke="#bbb" stroke-width=".4"/>
<text x="23.4" y="330.2" text-anchor="end" class="s">0.3</text>
<path d="M25.2,303.1h-1" stroke="#bbb" stroke-width=".4"/>
<text x="23.4" y="304.1" text-anchor="end" class="s">0.4</text>
<path d="M25.2,277h-1" stroke="#bbb" stroke-width=".4"/>
<text x="23.4" y="278" text-anchor="end" class="s">0.5</text>
<path d="M25.2,250.9h-1" stroke="#bbb" stroke-width=".4"/>
<text x="23.4" y="251.9" text-anchor="end" class="s">0.6</text>
<path d="M25.2,224.8h-1" stroke="#bbb" stroke-width=".4"/>
<text x="23.4" y="225.8" text-anchor="end" class="s">0.7</text>
<path d="M25.2,198.7h-1" stroke="#bbb" stroke-width=".4"/>
<text x="23.4" y="199.7" text-anchor="end" class="s">0.8</text>
<path d="M25.2,172.6h-1" stroke="#bbb" stroke-width=".4"/>
<text x="23.4" y="173.6" text-anchor="end" class="s">0.9</text>
<path d="M33.8,384.6v1" stroke="#bbb" stroke-width=".4"/>
<text x="33.8" y="388.8" text-anchor="middle" class="s">0</text>
<path d="M111.1,384.6v1" stroke="#bbb" stroke-width=".4"/>
<text x="111.1" y="388.8" text-anchor="middle" class="s">20</text>
<path d="M188.4,384.6v1" stroke="#bbb" stroke-width=".4"/>
<text x="188.4" y="388.8" text-anchor="middle" class="s">40</text>
<path d="M265.7,384.6v1" stroke="#bbb" stroke-width=".4"/>
<text x="265.7" y="388.8" text-anchor="middle" class="s">60</text>
<path d="M343,384.6v1" stroke="#bbb" stroke-width=".4"/>
<text x="343" y="388.8" text-anchor="middle" class="s">80</text>
<text x="205.7" y="392.2" text-anchor="middle" class="s s2">Dominant coordinate</text>
<text transform="translate(17.1,267.8) rotate(-90)" text-anchor="middle" class="s s2">Signal</text>
<text x="4.4" y="7" class="p">A</text>
<text x="6.1" y="157.9" class="p">B</text>
<text x="4.8" y="414.9" class="p">C</text>
</svg>
</body></html>
